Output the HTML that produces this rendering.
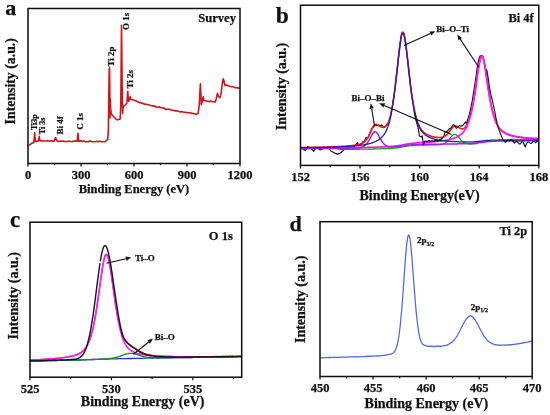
<!DOCTYPE html>
<html><head><meta charset="utf-8"><style>
html,body{margin:0;padding:0;background:#fff;}
svg{display:block;}
text{fill:#111;stroke:#111;stroke-width:0.25px;}
</style></head><body>
<svg width="550" height="415" viewBox="0 0 550 415">
<rect width="550" height="415" fill="#fff"/>
<path d="M28.5,145.5 L30.0,144.6 L32.0,143.2 L33.8,142.4 L34.3,138.0 L34.7,132.7 L35.1,139.0 L35.6,141.6 L37.0,141.2 L38.6,140.9 L39.1,137.0 L39.3,136.4 L39.6,139.0 L40.3,140.8 L41.9,140.9 L43.4,141.0 L45.0,141.0 L46.2,141.0 L47.5,140.8 L48.8,141.0 L50.0,141.2 L51.4,140.8 L52.9,141.1 L54.3,141.0 L55.0,138.5 L55.6,137.6 L56.3,139.5 L57.2,141.0 L58.8,141.6 L60.4,141.0 L62.0,141.3 L63.3,141.1 L64.7,141.5 L66.0,141.5 L67.3,141.5 L68.7,141.1 L70.0,141.5 L71.2,141.5 L72.4,141.7 L73.6,141.0 L74.8,141.3 L76.0,140.8 L77.2,141.4 L77.7,136.0 L78.0,133.3 L78.4,138.0 L78.9,141.3 L80.1,140.9 L81.3,140.8 L82.6,141.4 L83.8,141.1 L85.0,141.6 L86.2,141.7 L87.5,141.7 L88.8,141.6 L90.0,140.8 L91.2,141.5 L92.5,141.7 L93.8,141.7 L95.0,141.7 L96.4,141.2 L97.8,141.6 L99.2,141.4 L100.6,141.5 L102.0,141.8 L103.8,141.7 L105.5,141.6 L106.6,140.2 L107.8,139.6 L108.4,128.0 L108.8,95.0 L109.2,70.0 L109.5,67.8 L109.7,80.0 L110.0,118.0 L110.2,98.5 L110.6,108.0 L111.2,113.6 L112.5,115.5 L114.5,117.5 L116.6,119.8 L118.5,119.6 L120.2,119.0 L120.8,105.0 L121.2,60.0 L121.5,25.4 L121.9,60.0 L122.3,100.0 L122.6,113.5 L123.1,107.5 L124.0,106.0 L125.5,104.8 L126.8,103.2 L127.4,96.0 L127.8,91.4 L128.3,99.0 L128.8,101.3 L129.5,98.5 L130.1,96.8 L130.8,99.2 L132.5,99.8 L134.5,100.3 L136.2,101.0 L138.0,101.8 L139.3,102.7 L140.7,102.5 L142.0,103.3 L143.2,103.6 L144.5,104.2 L145.8,104.0 L147.0,104.5 L148.4,104.8 L149.8,105.2 L151.3,105.6 L152.7,105.9 L154.0,105.7 L155.3,106.5 L156.7,107.2 L158.0,107.0 L159.2,106.7 L160.5,107.8 L161.8,107.8 L163.0,108.0 L164.2,108.1 L165.5,109.4 L166.8,109.2 L168.0,109.3 L169.2,109.1 L170.5,109.8 L171.8,110.2 L173.0,110.2 L174.2,110.4 L175.5,110.9 L176.8,110.9 L178.0,111.2 L179.2,111.6 L180.5,112.1 L181.8,111.6 L183.0,112.0 L184.2,112.3 L185.5,112.2 L186.8,112.6 L188.0,112.8 L189.4,112.6 L190.9,113.0 L192.3,113.4 L193.7,113.5 L195.1,114.1 L196.5,114.0 L198.2,113.2 L199.2,105.0 L199.9,92.0 L200.4,83.7 L200.8,92.0 L201.3,104.4 L202.2,101.5 L203.2,96.8 L203.9,100.5 L205.0,100.8 L206.5,101.0 L208.0,101.3 L209.3,101.8 L210.7,101.0 L212.0,101.6 L213.6,101.8 L215.2,102.0 L216.3,98.5 L217.4,93.3 L218.3,96.0 L219.8,97.7 L221.0,94.0 L222.2,84.0 L223.2,78.8 L224.0,81.0 L225.0,85.5 L226.6,84.9 L227.8,85.5 L229.0,86.0 L230.5,86.4 L232.0,86.8 L233.3,86.8 L234.7,87.6 L236.0,87.6 L237.7,87.9 L239.4,88.3" fill="none" stroke="#d4121c" stroke-width="1.6" stroke-linejoin="round" stroke-linecap="round"/>
<rect x="28" y="8.5" width="212" height="155.0" fill="none" stroke="#0d0d0d" stroke-width="1.5"/>
<text x="28.00" y="178.6" text-anchor="middle" style="font-family:'Liberation Serif','Times New Roman',serif;font-weight:bold;font-size:12.5px">0</text>
<text x="81.00" y="178.6" text-anchor="middle" style="font-family:'Liberation Serif','Times New Roman',serif;font-weight:bold;font-size:12.5px">300</text>
<text x="134.00" y="178.6" text-anchor="middle" style="font-family:'Liberation Serif','Times New Roman',serif;font-weight:bold;font-size:12.5px">600</text>
<text x="187.00" y="178.6" text-anchor="middle" style="font-family:'Liberation Serif','Times New Roman',serif;font-weight:bold;font-size:12.5px">900</text>
<text x="240.00" y="178.6" text-anchor="middle" style="font-family:'Liberation Serif','Times New Roman',serif;font-weight:bold;font-size:12.5px">1200</text>
<path d="M28.00,163.5 v3 M54.50,163.5 v1.8 M81.00,163.5 v3 M107.50,163.5 v1.8 M134.00,163.5 v3 M160.50,163.5 v1.8 M187.00,163.5 v3 M213.50,163.5 v1.8 M240.00,163.5 v3" stroke="#1a1a1a" stroke-width="1.3" fill="none"/>
<text x="134" y="192.6" text-anchor="middle" style="font-family:'Liberation Serif','Times New Roman',serif;font-weight:bold;font-size:12.5px">Binding Energy (eV)</text>
<text transform="translate(14.6,81.25) rotate(-90)" text-anchor="middle" style="font-family:'Liberation Serif','Times New Roman',serif;font-weight:bold;font-size:13.8px">Intensity (a.u.)</text>
<text x="5.2" y="14.6" text-anchor="start" style="font-family:'Liberation Serif','Times New Roman',serif;font-weight:bold;font-size:22px">a</text>
<text x="236" y="21.8" text-anchor="end" style="font-family:'Liberation Serif','Times New Roman',serif;font-weight:bold;font-size:12.6px">Survey</text>
<text transform="translate(37.4,114.2) rotate(-90)" text-anchor="end" style="font-family:'Liberation Serif','Times New Roman',serif;font-weight:bold;font-size:8px">Ti3p</text>
<text transform="translate(44.8,117.6) rotate(-90)" text-anchor="end" style="font-family:'Liberation Serif','Times New Roman',serif;font-weight:bold;font-size:8px">Ti 3s</text>
<text transform="translate(62.6,116.3) rotate(-90)" text-anchor="end" style="font-family:'Liberation Serif','Times New Roman',serif;font-weight:bold;font-size:9px">Bi 4f</text>
<text transform="translate(83.2,113) rotate(-90)" text-anchor="end" style="font-family:'Liberation Serif','Times New Roman',serif;font-weight:bold;font-size:9px">C 1s</text>
<text transform="translate(114,46.5) rotate(-90)" text-anchor="end" style="font-family:'Liberation Serif','Times New Roman',serif;font-weight:bold;font-size:9px">Ti 2p</text>
<text transform="translate(129,12.8) rotate(-90)" text-anchor="end" style="font-family:'Liberation Serif','Times New Roman',serif;font-weight:bold;font-size:9px">O 1s</text>
<text transform="translate(132.5,70) rotate(-90)" text-anchor="end" style="font-family:'Liberation Serif','Times New Roman',serif;font-weight:bold;font-size:9px">Ti 2s</text>
<path d="M301.1,147.7 L301.5,148.2 L301.9,148.4 L302.3,148.9 L302.7,149.0 L303.1,149.0 L303.5,149.2 L303.9,149.5 L304.3,150.1 L304.7,150.0 L305.1,150.3 L305.5,150.6 L305.8,149.9 L306.2,149.0 L306.6,148.1 L307.0,147.4 L307.4,146.6 L307.8,146.7 L308.2,146.8 L308.6,146.9 L309.0,147.3 L309.4,147.4 L309.8,147.9 L310.2,148.0 L310.6,148.4 L311.0,148.4 L311.4,149.1 L311.8,149.1 L312.2,149.4 L312.6,150.1 L313.0,150.4 L313.4,151.0 L313.8,151.4 L314.2,150.3 L314.6,149.8 L315.0,149.4 L315.3,148.9 L315.7,148.3 L316.1,147.7 L316.5,147.6 L316.9,147.9 L317.3,147.9 L317.7,148.3 L318.1,148.6 L318.5,148.7 L318.9,149.2 L319.3,149.2 L319.7,149.8 L320.1,150.0 L320.5,149.9 L320.9,149.6 L321.3,149.5 L321.7,148.9 L322.1,148.9 L322.5,149.0 L322.9,148.4 L323.3,148.7 L323.7,148.1 L324.1,148.4 L324.5,148.0 L324.8,148.2 L325.2,147.9 L325.6,147.5 L326.0,147.8 L326.4,147.7 L326.8,147.2 L327.2,147.0 L327.6,146.8 L328.0,146.9 L328.4,147.9 L328.8,148.1 L329.2,148.8 L329.6,149.2 L330.0,149.8 L330.4,150.2 L330.8,151.0 L331.2,151.0 L331.6,151.5 L332.0,151.6 L332.4,151.7 L332.8,152.1 L333.2,152.3 L333.6,152.6 L334.0,152.8 L334.3,152.9 L334.7,152.9 L335.1,153.1 L335.5,153.7 L335.9,153.5 L336.3,153.5 L336.7,153.9 L337.1,154.3 L337.5,153.9 L337.9,154.0 L338.3,153.8 L338.7,153.4 L339.1,153.7 L339.5,153.4 L339.9,153.2 L340.3,152.9 L340.7,153.0 L341.1,152.5 L341.5,152.2 L341.9,151.6 L342.3,151.2 L342.7,151.3 L343.1,150.6 L343.5,150.3 L343.8,150.0 L344.2,149.7 L344.6,149.5 L345.0,149.5 L345.4,149.1 L345.8,148.9 L346.2,148.8 L346.6,148.8 L347.0,148.5 L347.4,148.6 L347.8,148.5 L348.2,148.4 L348.6,148.9 L349.0,149.0 L349.4,148.9 L349.8,149.1 L350.2,149.3 L350.6,149.4 L351.0,149.6 L351.4,149.3 L351.8,149.3 L352.2,148.4 L352.6,148.4 L353.0,147.9 L353.3,147.6 L353.7,147.4 L354.1,146.9 L354.5,146.1 L354.9,145.5 L355.3,145.5 L355.7,144.7 L356.1,144.4 L356.5,144.1 L356.9,143.2 L357.3,142.6 L357.7,142.6 L358.1,145.1 L358.5,145.2 L358.9,145.3 L359.3,145.1 L359.7,144.9 L360.1,144.9 L360.5,144.4 L360.9,143.8 L361.3,143.6 L361.7,143.0 L362.1,142.5 L362.5,141.9 L362.8,141.8 L363.2,141.7 L363.6,141.6 L364.0,141.6 L364.4,140.9 L364.8,140.2 L365.2,139.2 L365.6,138.5 L366.0,137.4 L366.4,137.7 L366.8,137.7 L367.2,138.0 L367.6,137.8 L368.0,137.6 L368.4,137.1 L368.8,135.9 L369.2,134.8 L369.6,133.6 L370.0,132.7 L370.4,131.5 L370.8,130.3 L371.2,129.9 L371.6,129.0 L372.0,128.2 L372.3,128.2 L372.7,128.1 L373.1,127.4 L373.5,126.6 L373.9,126.1 L374.3,125.9 L374.7,125.3 L375.1,125.1 L375.5,125.1 L375.9,125.3 L376.3,125.6 L376.7,125.6 L377.1,125.5 L377.5,125.2 L377.9,125.3 L378.3,125.0 L378.7,125.3 L379.1,125.1 L379.5,125.6 L379.9,125.9 L380.3,125.8 L380.7,126.1 L381.1,125.6 L381.5,124.8 L381.8,124.9 L382.2,125.3 L382.6,125.6 L383.0,126.9 L383.4,127.5 L383.8,127.8 L384.2,127.6 L384.6,127.4 L385.0,126.9 L385.4,126.5 L385.8,125.8 L386.2,125.1 L386.6,124.9 L387.0,124.1 L387.4,123.8 L387.8,123.0 L388.2,122.8 L388.6,121.9 L389.0,120.6 L389.4,119.3 L389.8,118.1 L390.2,117.0 L390.6,115.2 L391.0,113.5 L391.3,111.7 L391.7,109.8 L392.1,107.5 L392.5,105.4 L392.9,102.7 L393.3,100.3 L393.7,97.5 L394.1,94.9 L394.5,91.8 L394.9,88.6 L395.3,85.4 L395.7,82.1 L396.1,78.8 L396.5,74.9 L396.9,71.4 L397.3,67.9 L397.7,64.6 L398.1,60.7 L398.5,56.9 L398.9,53.5 L399.3,50.3 L399.7,46.6 L400.1,43.5 L400.5,41.0 L400.8,38.4 L401.2,36.3 L401.6,34.4 L402.0,33.5 L402.4,32.7 L402.8,32.2 L403.2,32.5 L403.6,32.8 L404.0,34.3 L404.4,35.8 L404.8,37.9 L405.2,40.4 L405.6,42.9 L406.0,45.7 L406.4,49.2 L406.8,52.3 L407.2,55.9 L407.6,59.3 L408.0,62.9 L408.4,66.2 L408.8,70.3 L409.2,73.6 L409.6,77.2 L410.0,80.7 L410.3,83.6 L410.7,86.5 L411.1,89.6 L411.5,92.5 L411.9,95.4 L412.3,98.1 L412.7,100.3 L413.1,103.1 L413.5,105.0 L413.9,107.5 L414.3,112.5" fill="none" stroke="#111111" stroke-width="1.1" stroke-linejoin="round" stroke-linecap="round"/>
<path d="M467.3,120.5 L467.7,119.3 L468.1,118.3 L468.5,117.4 L468.9,115.2 L469.3,114.4 L469.7,112.5 L470.1,111.3 L470.5,109.1 L470.9,107.4 L471.3,105.3 L471.7,103.3 L472.1,101.6 L472.5,99.2 L472.9,96.7 L473.3,94.1 L473.7,91.4 L474.1,89.1 L474.5,86.5 L474.9,83.8 L475.3,81.0 L475.7,78.1 L476.1,75.5 L476.5,72.8 L476.8,70.4 L477.2,68.0 L477.6,65.2 L478.0,62.9 L478.4,61.0 L478.8,59.2 L479.2,57.8 L479.6,56.9 L480.0,56.0 L480.4,55.9 L480.8,55.9 L481.2,56.3 L481.6,55.8 L482.0,55.7 L482.4,56.0 L482.8,56.8 L483.2,57.8 L483.6,59.4 L484.0,61.0 L484.4,62.7 L484.8,65.2 L485.2,67.3 L485.6,69.9 L486.0,72.6 L486.3,74.9 L486.7,69.5 L487.1,71.8" fill="none" stroke="#111111" stroke-width="1.1" stroke-linejoin="round" stroke-linecap="round"/>
<path d="M338.3,149.3 L338.7,149.3 L339.1,149.3 L339.5,149.3 L339.9,149.3 L340.3,149.3 L340.7,149.3 L341.1,149.3 L341.5,149.3 L341.9,149.3 L342.3,149.3 L342.7,149.3 L343.1,149.3 L343.5,149.3 L343.8,149.3 L344.2,149.3 L344.6,149.3 L345.0,149.3 L345.4,149.3 L345.8,149.3 L346.2,149.3 L346.6,149.3 L347.0,149.3 L347.4,149.3 L347.8,149.3 L348.2,149.3 L348.6,149.3 L349.0,149.3 L349.4,149.3 L349.8,149.3 L350.2,149.3 L350.6,149.3 L351.0,149.3 L351.4,149.3 L351.8,149.3 L352.2,149.3 L352.6,149.3 L353.0,149.3 L353.3,149.3 L353.7,149.3 L354.1,149.3 L354.5,149.3 L354.9,149.3 L355.3,149.3 L355.7,149.3 L356.1,149.3 L356.5,149.3 L356.9,149.3 L357.3,149.3 L357.7,149.3 L358.1,149.3 L358.5,149.3 L358.9,149.3 L359.3,149.3 L359.7,149.2 L360.1,149.2 L360.5,149.2 L360.9,149.2 L361.3,149.2 L361.7,149.2 L362.1,149.2 L362.5,149.2 L362.8,149.2 L363.2,149.2 L363.6,149.2 L364.0,149.2 L364.4,149.2 L364.8,149.2 L365.2,149.2 L365.6,149.2 L366.0,149.2 L366.4,149.2 L366.8,149.2 L367.2,149.2 L367.6,149.2 L368.0,149.2 L368.4,149.2 L368.8,149.1 L369.2,149.1 L369.6,149.1 L370.0,149.1 L370.4,149.1 L370.8,149.1 L371.2,149.1 L371.6,149.1 L372.0,149.1 L372.3,149.0 L372.7,149.0 L373.1,149.0 L373.5,149.0 L373.9,149.0 L374.3,149.0 L374.7,149.0 L375.1,148.9 L375.5,148.9 L375.9,148.9 L376.3,148.9 L376.7,148.9 L377.1,148.9 L377.5,148.9 L377.9,148.8 L378.3,148.8 L378.7,148.8 L379.1,148.8 L379.5,148.8 L379.9,148.8 L380.3,148.8 L380.7,148.7 L381.1,148.7 L381.5,148.7 L381.8,148.7 L382.2,148.7 L382.6,148.7 L383.0,148.7 L383.4,148.7 L383.8,148.7 L384.2,148.6 L384.6,148.6 L385.0,148.6 L385.4,148.6 L385.8,148.6 L386.2,148.6 L386.6,148.6 L387.0,148.6 L387.4,148.5 L387.8,148.5 L388.2,148.5 L388.6,148.5 L389.0,148.5 L389.4,148.5 L389.8,148.4 L390.2,148.4 L390.6,148.4 L391.0,148.4 L391.3,148.4 L391.7,148.3 L392.1,148.3 L392.5,148.3 L392.9,148.2 L393.3,148.2 L393.7,148.2 L394.1,148.1 L394.5,148.1 L394.9,148.1 L395.3,148.0 L395.7,148.0 L396.1,147.9 L396.5,147.9 L396.9,147.8 L397.3,147.8 L397.7,147.7 L398.1,147.7 L398.5,147.6 L398.9,147.6 L399.3,147.5 L399.7,147.4 L400.1,147.4 L400.5,147.3 L400.8,147.2 L401.2,147.1 L401.6,147.1 L402.0,147.0 L402.4,146.9 L402.8,146.8 L403.2,146.8 L403.6,146.7 L404.0,146.6 L404.4,146.6 L404.8,146.5 L405.2,146.4 L405.6,146.3 L406.0,146.3 L406.4,146.2 L406.8,146.2 L407.2,146.1 L407.6,146.0 L408.0,146.0 L408.4,145.9 L408.8,145.9 L409.2,145.8 L409.6,145.8 L410.0,145.7 L410.3,145.7 L410.7,145.7 L411.1,145.6 L411.5,145.6 L411.9,145.6 L412.3,145.5 L412.7,145.5 L413.1,145.5 L413.5,145.4 L413.9,145.4 L414.3,145.4 L414.7,145.4 L415.1,145.4 L415.5,145.3 L415.9,145.3 L416.3,145.3 L416.7,145.3 L417.1,145.3 L417.5,145.2 L417.9,145.2 L418.3,145.2 L418.7,145.2 L419.1,145.2 L419.5,145.2 L419.8,145.2 L420.2,145.2 L420.6,145.1 L421.0,145.1 L421.4,145.1 L421.8,145.1 L422.2,145.1 L422.6,145.1 L423.0,145.1 L423.4,145.1 L423.8,145.1 L424.2,145.1 L424.6,145.0 L425.0,145.0 L425.4,145.0 L425.8,145.0 L426.2,145.0 L426.6,145.0 L427.0,145.0 L427.4,145.0 L427.8,145.0 L428.2,145.0 L428.6,145.0 L429.0,145.0 L429.3,145.0 L429.7,144.9 L430.1,144.9 L430.5,144.9 L430.9,144.9 L431.3,144.9 L431.7,144.9 L432.1,144.9 L432.5,144.9 L432.9,144.9 L433.3,144.9 L433.7,144.9 L434.1,144.9 L434.5,144.8 L434.9,144.8 L435.3,144.8 L435.7,144.8 L436.1,144.8 L436.5,144.8 L436.9,144.8 L437.3,144.8 L437.7,144.8 L438.1,144.7 L438.5,144.7 L438.8,144.7 L439.2,144.7 L439.6,144.6 L440.0,144.6 L440.4,144.6 L440.8,144.5 L441.2,144.4 L441.6,144.4 L442.0,144.3 L442.4,144.2 L442.8,144.1 L443.2,144.0 L443.6,143.8 L444.0,143.7 L444.4,143.5 L444.8,143.3 L445.2,143.1 L445.6,142.8 L446.0,142.5 L446.4,142.2 L446.8,141.9 L447.2,141.5 L447.6,141.1 L448.0,140.7 L448.3,140.2 L448.7,139.8 L449.1,139.3 L449.5,138.8 L449.9,138.3 L450.3,137.8 L450.7,137.3 L451.1,136.8 L451.5,136.4 L451.9,135.9 L452.3,135.5 L452.7,135.2 L453.1,134.9 L453.5,134.7 L453.9,134.5 L454.3,134.4 L454.7,134.3 L455.1,134.4 L455.5,134.5 L455.9,134.7 L456.3,134.9 L456.7,135.2 L457.1,135.6 L457.5,135.9 L457.8,136.4 L458.2,136.8 L458.6,137.3 L459.0,137.8 L459.4,138.2 L459.8,138.7 L460.2,139.2 L460.6,139.6 L461.0,140.1 L461.4,140.5 L461.8,140.9 L462.2,141.3 L462.6,141.6 L463.0,141.9 L463.4,142.2 L463.8,142.5 L464.2,142.7 L464.6,142.9 L465.0,143.1 L465.4,143.3 L465.8,143.4 L466.2,143.5 L466.6,143.6 L467.0,143.7 L467.3,143.8 L467.7,143.8 L468.1,143.9 L468.5,143.9 L468.9,143.9 L469.3,143.9 L469.7,144.0 L470.1,144.0 L470.5,144.0 L470.9,144.0 L471.3,144.0 L471.7,143.9 L472.1,143.9 L472.5,143.9 L472.9,143.9 L473.3,143.9 L473.7,143.9 L474.1,143.8 L474.5,143.8 L474.9,143.8 L475.3,143.7 L475.7,143.7 L476.1,143.7 L476.5,143.6 L476.8,143.6 L477.2,143.6 L477.6,143.5" fill="none" stroke="#1c9a1c" stroke-width="1.3" stroke-linejoin="round" stroke-linecap="round"/>
<path d="M301.1,147.6 L301.5,147.5 L301.9,147.5 L302.3,147.5 L302.7,147.5 L303.1,147.5 L303.5,147.5 L303.9,147.5 L304.3,147.5 L304.7,147.5 L305.1,147.5 L305.5,147.5 L305.8,147.5 L306.2,147.5 L306.6,147.5 L307.0,147.5 L307.4,147.5 L307.8,147.5 L308.2,147.4 L308.6,147.4 L309.0,147.4 L309.4,147.4 L309.8,147.4 L310.2,147.4 L310.6,147.4 L311.0,147.4 L311.4,147.4 L311.8,147.4 L312.2,147.4 L312.6,147.4 L313.0,147.4 L313.4,147.4 L313.8,147.4 L314.2,147.3 L314.6,147.3 L315.0,147.3 L315.3,147.3 L315.7,147.3 L316.1,147.3 L316.5,147.3 L316.9,147.3 L317.3,147.3 L317.7,147.3 L318.1,147.3 L318.5,147.3 L318.9,147.2 L319.3,147.2 L319.7,147.2 L320.1,147.2 L320.5,147.2 L320.9,147.2 L321.3,147.2 L321.7,147.2 L322.1,147.2 L322.5,147.2 L322.9,147.2 L323.3,147.1 L323.7,147.1 L324.1,147.1 L324.5,147.1 L324.8,147.1 L325.2,147.1 L325.6,147.1 L326.0,147.1 L326.4,147.1 L326.8,147.0 L327.2,147.0 L327.6,147.0 L328.0,147.0 L328.4,147.0 L328.8,147.0 L329.2,147.0 L329.6,147.0 L330.0,146.9 L330.4,146.9 L330.8,146.9 L331.2,146.9 L331.6,146.9 L332.0,146.9 L332.4,146.9 L332.8,146.8 L333.2,146.8 L333.6,146.8 L334.0,146.8 L334.3,146.8 L334.7,146.8 L335.1,146.7 L335.5,146.7 L335.9,146.7 L336.3,146.7 L336.7,146.7 L337.1,146.7 L337.5,146.6 L337.9,146.6 L338.3,146.6 L338.7,146.6 L339.1,146.6 L339.5,146.5 L339.9,146.5 L340.3,146.5 L340.7,146.5 L341.1,146.5 L341.5,146.4 L341.9,146.4 L342.3,146.4 L342.7,146.4 L343.1,146.3 L343.5,146.3 L343.8,146.3 L344.2,146.3 L344.6,146.2 L345.0,146.2 L345.4,146.2 L345.8,146.2 L346.2,146.1 L346.6,146.1 L347.0,146.1 L347.4,146.0 L347.8,146.0 L348.2,146.0 L348.6,145.9 L349.0,145.9 L349.4,145.9 L349.8,145.8 L350.2,145.8 L350.6,145.8 L351.0,145.7 L351.4,145.7 L351.8,145.6 L352.2,145.6 L352.6,145.6 L353.0,145.5 L353.3,145.5 L353.7,145.4 L354.1,145.4 L354.5,145.3 L354.9,145.3 L355.3,145.2 L355.7,145.1 L356.1,145.1 L356.5,145.0 L356.9,145.0 L357.3,144.9 L357.7,144.8 L358.1,144.7 L358.5,144.6 L358.9,144.6 L359.3,144.5 L359.7,144.4 L360.1,144.2 L360.5,144.1 L360.9,144.0 L361.3,143.8 L361.7,143.7 L362.1,143.5 L362.5,143.3 L362.8,143.0 L363.2,142.8 L363.6,142.5 L364.0,142.2 L364.4,141.9 L364.8,141.5 L365.2,141.1 L365.6,140.6 L366.0,140.1 L366.4,139.6 L366.8,139.0 L367.2,138.4 L367.6,137.8 L368.0,137.1 L368.4,136.4 L368.8,135.6 L369.2,134.8 L369.6,134.0 L370.0,133.1 L370.4,132.3 L370.8,131.4 L371.2,130.6 L371.6,129.7 L372.0,128.9 L372.3,128.2 L372.7,127.4 L373.1,126.7 L373.5,126.1 L373.9,125.6 L374.3,125.2 L374.7,124.9 L375.1,124.6 L375.5,124.5 L375.9,124.4 L376.3,124.4 L376.7,124.5 L377.1,124.7 L377.5,124.9 L377.9,125.1 L378.3,125.3 L378.7,125.6 L379.1,125.9 L379.5,126.1 L379.9,126.3 L380.3,126.5 L380.7,126.7 L381.1,126.9 L381.5,127.0 L381.8,127.1 L382.2,127.1 L382.6,127.2 L383.0,127.2 L383.4,127.2 L383.8,127.1 L384.2,127.0 L384.6,126.9 L385.0,126.7 L385.4,126.5 L385.8,126.2 L386.2,125.8 L386.6,125.4 L387.0,124.9 L387.4,124.3 L387.8,123.6 L388.2,122.8 L388.6,121.8 L389.0,120.8 L389.4,119.6 L389.8,118.3 L390.2,116.9 L390.6,115.3 L391.0,113.6 L391.3,111.7 L391.7,109.7 L392.1,107.6 L392.5,105.3 L392.9,102.9 L393.3,100.3 L393.7,97.6 L394.1,94.8 L394.5,91.8 L394.9,88.7 L395.3,85.5 L395.7,82.1 L396.1,78.7 L396.5,75.2 L396.9,71.6 L397.3,67.9 L397.7,64.3 L398.1,60.6 L398.5,56.9 L398.9,53.4 L399.3,49.9 L399.7,46.7 L400.1,43.6 L400.5,40.8 L400.8,38.3 L401.2,36.2 L401.6,34.5 L402.0,33.2 L402.4,32.4 L402.8,32.2 L403.2,32.4 L403.6,33.1 L404.0,34.2 L404.4,35.9 L404.8,37.9 L405.2,40.3 L405.6,43.0 L406.0,45.9 L406.4,49.1 L406.8,52.4 L407.2,55.9 L407.6,59.4 L408.0,63.0 L408.4,66.6 L408.8,70.1 L409.2,73.6 L409.6,77.0 L410.0,80.4 L410.3,83.6 L410.7,86.8 L411.1,89.8 L411.5,92.7 L411.9,95.5 L412.3,98.1 L412.7,100.6 L413.1,103.0 L413.5,105.3 L413.9,107.4 L414.3,109.4 L414.7,111.3 L415.1,113.1 L415.5,114.8 L415.9,116.3 L416.3,117.8 L416.7,119.1 L417.1,120.4 L417.5,121.6 L417.9,122.7 L418.3,123.7 L418.7,124.7 L419.1,125.5 L419.5,126.4 L419.8,127.1 L420.2,127.8 L420.6,128.5 L421.0,129.1 L421.4,129.6 L421.8,130.2 L422.2,130.6 L422.6,131.1 L423.0,131.5 L423.4,131.9 L423.8,132.3 L424.2,132.6 L424.6,132.9 L425.0,133.3 L425.4,133.5 L425.8,133.8 L426.2,134.1 L426.6,134.3 L427.0,134.5 L427.4,134.7 L427.8,134.9 L428.2,135.1 L428.6,135.3 L429.0,135.4 L429.3,135.6 L429.7,135.8 L430.1,135.9 L430.5,136.0 L430.9,136.2 L431.3,136.3 L431.7,136.4 L432.1,136.5 L432.5,136.6 L432.9,136.7 L433.3,136.8 L433.7,136.9 L434.1,137.0 L434.5,137.0 L434.9,137.1 L435.3,137.2 L435.7,137.2 L436.1,137.3 L436.5,137.3 L436.9,137.4 L437.3,137.4 L437.7,137.5 L438.1,137.5 L438.5,137.5 L438.8,137.5 L439.2,137.5 L439.6,137.5 L440.0,137.5 L440.4,137.5 L440.8,137.5 L441.2,137.4 L441.6,137.4 L442.0,137.3 L442.4,137.3 L442.8,137.2 L443.2,137.0 L443.6,136.9 L444.0,136.7 L444.4,136.5 L444.8,136.3 L445.2,136.1 L445.6,135.8 L446.0,135.5 L446.4,135.2 L446.8,134.8 L447.2,134.4 L447.6,134.0 L448.0,133.5 L448.3,133.1 L448.7,132.5 L449.1,132.0 L449.5,131.5 L449.9,130.9 L450.3,130.4 L450.7,129.8 L451.1,129.3 L451.5,128.7 L451.9,128.2 L452.3,127.8 L452.7,127.3 L453.1,126.9 L453.5,126.6 L453.9,126.3 L454.3,126.1 L454.7,126.0 L455.1,125.9 L455.5,125.9 L455.9,125.9 L456.3,126.0 L456.7,126.2 L457.1,126.3 L457.5,126.6 L457.8,126.8 L458.2,127.1 L458.6,127.3 L459.0,127.6 L459.4,127.9 L459.8,128.1 L460.2,128.3 L460.6,128.5 L461.0,128.7 L461.4,128.8 L461.8,128.8 L462.2,128.9 L462.6,128.8 L463.0,128.8 L463.4,128.6 L463.8,128.4 L464.2,128.2 L464.6,127.8 L465.0,127.5 L465.4,127.0 L465.8,126.5 L466.2,125.9 L466.6,125.3 L467.0,124.6 L467.3,123.8 L467.7,122.9 L468.1,122.0 L468.5,121.0 L468.9,119.9 L469.3,118.7 L469.7,117.5 L470.1,116.1 L470.5,114.7 L470.9,113.2 L471.3,111.6 L471.7,109.8 L472.1,108.0 L472.5,106.1 L472.9,104.1 L473.3,102.0 L473.7,99.7 L474.1,97.4 L474.5,95.0 L474.9,92.5 L475.3,89.9 L475.7,87.3 L476.1,84.6 L476.5,81.8 L476.8,79.1 L477.2,76.3 L477.6,73.6 L478.0,70.9 L478.4,68.3 L478.8,65.9 L479.2,63.6 L479.6,61.6 L480.0,59.8 L480.4,58.3 L480.8,57.1 L481.2,56.3 L481.6,55.8 L482.0,55.8 L482.4,56.1 L482.8,56.8 L483.2,57.9 L483.6,59.3 L484.0,61.0 L484.4,63.0 L484.8,65.2 L485.2,67.5 L485.6,70.0 L486.0,72.6 L486.3,75.3 L486.7,78.0 L487.1,80.7 L487.5,83.4 L487.9,86.0 L488.3,88.6 L488.7,91.1 L489.1,93.6 L489.5,96.0 L489.9,98.3 L490.3,100.5 L490.7,102.6 L491.1,104.6 L491.5,106.5 L491.9,108.3 L492.3,110.0 L492.7,111.6 L493.1,113.1 L493.5,114.6 L493.9,115.9 L494.3,117.2 L494.7,118.4 L495.1,119.5 L495.5,120.6 L495.8,121.6 L496.2,122.5 L496.6,123.3 L497.0,124.1 L497.4,124.9 L497.8,125.6 L498.2,126.3 L498.6,126.9 L499.0,127.4 L499.4,128.0 L499.8,128.5 L500.2,129.0 L500.6,129.4 L501.0,129.8 L501.4,130.2 L501.8,130.6 L502.2,130.9 L502.6,131.2 L503.0,131.5 L503.4,131.8 L503.8,132.1 L504.2,132.4 L504.6,132.6 L505.0,132.8 L505.3,133.1 L505.7,133.3 L506.1,133.5 L506.5,133.7 L506.9,133.8 L507.3,134.0 L507.7,134.2 L508.1,134.3 L508.5,134.5 L508.9,134.6 L509.3,134.8 L509.7,134.9 L510.1,135.1 L510.5,135.2 L510.9,135.3 L511.3,135.4 L511.7,135.5 L512.1,135.6 L512.5,135.7 L512.9,135.8 L513.3,135.9 L513.7,136.0 L514.1,136.1 L514.5,136.2 L514.8,136.3 L515.2,136.4 L515.6,136.5 L516.0,136.5 L516.4,136.6 L516.8,136.7 L517.2,136.8 L517.6,136.8 L518.0,136.9 L518.4,137.0 L518.8,137.0 L519.2,137.1 L519.6,137.1 L520.0,137.2 L520.4,137.2 L520.8,137.3 L521.2,137.3 L521.6,137.4 L522.0,137.4 L522.4,137.5 L522.8,137.5 L523.2,137.6 L523.6,137.6 L524.0,137.7 L524.3,137.7 L524.7,137.8 L525.1,137.8 L525.5,137.8 L525.9,137.9 L526.3,137.9 L526.7,137.9 L527.1,138.0 L527.5,138.0 L527.9,138.1 L528.3,138.1 L528.7,138.1 L529.1,138.1 L529.5,138.2 L529.9,138.2 L530.3,138.2 L530.7,138.3 L531.1,138.3 L531.5,138.3 L531.9,138.3 L532.3,138.4 L532.7,138.4 L533.1,138.4 L533.5,138.4 L533.8,138.5 L534.2,138.5 L534.6,138.5 L535.0,138.5 L535.4,138.6 L535.8,138.6 L536.2,138.6 L536.6,138.6 L537.0,138.6 L537.4,138.7 L537.8,138.7 L538.2,138.7" fill="none" stroke="#ff1414" stroke-width="1.6" stroke-linejoin="round" stroke-linecap="round"/>
<path d="M301.1,147.9 L301.5,147.9 L301.9,147.9 L302.3,147.9 L302.7,147.9 L303.1,147.9 L303.5,147.9 L303.9,147.9 L304.3,147.9 L304.7,147.9 L305.1,147.9 L305.5,147.9 L305.8,147.9 L306.2,147.9 L306.6,147.9 L307.0,147.9 L307.4,147.9 L307.8,147.9 L308.2,147.9 L308.6,147.8 L309.0,147.8 L309.4,147.8 L309.8,147.8 L310.2,147.8 L310.6,147.8 L311.0,147.8 L311.4,147.8 L311.8,147.8 L312.2,147.8 L312.6,147.8 L313.0,147.8 L313.4,147.8 L313.8,147.8 L314.2,147.8 L314.6,147.8 L315.0,147.8 L315.3,147.8 L315.7,147.8 L316.1,147.8 L316.5,147.8 L316.9,147.8 L317.3,147.8 L317.7,147.8 L318.1,147.8 L318.5,147.8 L318.9,147.8 L319.3,147.8 L319.7,147.8 L320.1,147.8 L320.5,147.8 L320.9,147.8 L321.3,147.8 L321.7,147.8 L322.1,147.8 L322.5,147.8 L322.9,147.8 L323.3,147.8 L323.7,147.8 L324.1,147.8 L324.5,147.8 L324.8,147.8 L325.2,147.8 L325.6,147.8 L326.0,147.8 L326.4,147.8 L326.8,147.8 L327.2,147.8 L327.6,147.8 L328.0,147.8 L328.4,147.8 L328.8,147.8 L329.2,147.8 L329.6,147.8 L330.0,147.8 L330.4,147.8 L330.8,147.8 L331.2,147.8 L331.6,147.8 L332.0,147.8 L332.4,147.8 L332.8,147.8 L333.2,147.8 L333.6,147.8 L334.0,147.8 L334.3,147.8 L334.7,147.8 L335.1,147.7 L335.5,147.7 L335.9,147.7 L336.3,147.7 L336.7,147.7 L337.1,147.7 L337.5,147.7 L337.9,147.7 L338.3,147.7 L338.7,147.7 L339.1,147.7 L339.5,147.7 L339.9,147.7 L340.3,147.7 L340.7,147.7 L341.1,147.7 L341.5,147.7 L341.9,147.7 L342.3,147.7 L342.7,147.7 L343.1,147.7 L343.5,147.7 L343.8,147.7 L344.2,147.7 L344.6,147.7 L345.0,147.7 L345.4,147.7 L345.8,147.7 L346.2,147.7 L346.6,147.7 L347.0,147.7 L347.4,147.7 L347.8,147.7 L348.2,147.7 L348.6,147.7 L349.0,147.7 L349.4,147.7 L349.8,147.7 L350.2,147.7 L350.6,147.7 L351.0,147.6 L351.4,147.6 L351.8,147.6 L352.2,147.6 L352.6,147.6 L353.0,147.6 L353.3,147.6 L353.7,147.6 L354.1,147.6 L354.5,147.6 L354.9,147.6 L355.3,147.6 L355.7,147.6 L356.1,147.6 L356.5,147.6 L356.9,147.6 L357.3,147.6 L357.7,147.6 L358.1,147.6 L358.5,147.6 L358.9,147.6 L359.3,147.6 L359.7,147.6 L360.1,147.6 L360.5,147.6 L360.9,147.6 L361.3,147.6 L361.7,147.5 L362.1,147.5 L362.5,147.5 L362.8,147.5 L363.2,147.5 L363.6,147.5 L364.0,147.5 L364.4,147.5 L364.8,147.5 L365.2,147.5 L365.6,147.5 L366.0,147.5 L366.4,147.5 L366.8,147.5 L367.2,147.5 L367.6,147.4 L368.0,147.4 L368.4,147.4 L368.8,147.4 L369.2,147.4 L369.6,147.4 L370.0,147.4 L370.4,147.4 L370.8,147.4 L371.2,147.3 L371.6,147.3 L372.0,147.3 L372.3,147.3 L372.7,147.3 L373.1,147.3 L373.5,147.2 L373.9,147.2 L374.3,147.2 L374.7,147.2 L375.1,147.2 L375.5,147.2 L375.9,147.1 L376.3,147.1 L376.7,147.1 L377.1,147.1 L377.5,147.1 L377.9,147.1 L378.3,147.0 L378.7,147.0 L379.1,147.0 L379.5,147.0 L379.9,147.0 L380.3,147.0 L380.7,146.9 L381.1,146.9 L381.5,146.9 L381.8,146.9 L382.2,146.9 L382.6,146.9 L383.0,146.9 L383.4,146.8 L383.8,146.8 L384.2,146.8 L384.6,146.8 L385.0,146.8 L385.4,146.8 L385.8,146.7 L386.2,146.7 L386.6,146.7 L387.0,146.7 L387.4,146.7 L387.8,146.7 L388.2,146.6 L388.6,146.6 L389.0,146.6 L389.4,146.6 L389.8,146.6 L390.2,146.5 L390.6,146.5 L391.0,146.5 L391.3,146.4 L391.7,146.4 L392.1,146.4 L392.5,146.4 L392.9,146.3 L393.3,146.3 L393.7,146.2 L394.1,146.2 L394.5,146.2 L394.9,146.1 L395.3,146.1 L395.7,146.0 L396.1,146.0 L396.5,145.9 L396.9,145.9 L397.3,145.8 L397.7,145.8 L398.1,145.7 L398.5,145.6 L398.9,145.6 L399.3,145.5 L399.7,145.4 L400.1,145.3 L400.5,145.3 L400.8,145.2 L401.2,145.1 L401.6,145.0 L402.0,145.0 L402.4,144.9 L402.8,144.8 L403.2,144.7 L403.6,144.6 L404.0,144.5 L404.4,144.5 L404.8,144.4 L405.2,144.3 L405.6,144.2 L406.0,144.2 L406.4,144.1 L406.8,144.0 L407.2,144.0 L407.6,143.9 L408.0,143.8 L408.4,143.8 L408.8,143.7 L409.2,143.7 L409.6,143.6 L410.0,143.6 L410.3,143.5 L410.7,143.5 L411.1,143.4 L411.5,143.4 L411.9,143.3 L412.3,143.3 L412.7,143.3 L413.1,143.2 L413.5,143.2 L413.9,143.1 L414.3,143.1 L414.7,143.1 L415.1,143.0 L415.5,143.0 L415.9,143.0 L416.3,143.0 L416.7,142.9 L417.1,142.9 L417.5,142.9 L417.9,142.8 L418.3,142.8 L418.7,142.8 L419.1,142.8 L419.5,142.7 L419.8,142.7 L420.2,142.7 L420.6,142.7 L421.0,142.6 L421.4,142.6 L421.8,142.6 L422.2,142.6 L422.6,142.6 L423.0,142.5 L423.4,142.5 L423.8,142.5 L424.2,142.5 L424.6,142.4 L425.0,142.4 L425.4,142.4 L425.8,142.4 L426.2,142.3 L426.6,142.3 L427.0,142.3 L427.4,142.3 L427.8,142.2 L428.2,142.2 L428.6,142.2 L429.0,142.1 L429.3,142.1 L429.7,142.1 L430.1,142.1 L430.5,142.0 L430.9,142.0 L431.3,142.0 L431.7,141.9 L432.1,141.9 L432.5,141.9 L432.9,141.9 L433.3,141.8 L433.7,141.8 L434.1,141.8 L434.5,141.7 L434.9,141.7 L435.3,141.6 L435.7,141.6 L436.1,141.6 L436.5,141.5 L436.9,141.5 L437.3,141.5 L437.7,141.4 L438.1,141.4 L438.5,141.3 L438.8,141.3 L439.2,141.2 L439.6,141.2 L440.0,141.2 L440.4,141.1 L440.8,141.1 L441.2,141.0 L441.6,141.0 L442.0,140.9 L442.4,140.9 L442.8,140.8 L443.2,140.7 L443.6,140.7 L444.0,140.6 L444.4,140.6 L444.8,140.5 L445.2,140.4 L445.6,140.4 L446.0,140.3 L446.4,140.2 L446.8,140.1 L447.2,140.1 L447.6,140.0 L448.0,139.9 L448.3,139.8 L448.7,139.7 L449.1,139.6 L449.5,139.5 L449.9,139.4 L450.3,139.3 L450.7,139.2 L451.1,139.1 L451.5,139.0 L451.9,138.9 L452.3,138.8 L452.7,138.6 L453.1,138.5 L453.5,138.4 L453.9,138.2 L454.3,138.1 L454.7,137.9 L455.1,137.8 L455.5,137.6 L455.9,137.4 L456.3,137.2 L456.7,137.1 L457.1,136.9 L457.5,136.7 L457.8,136.4 L458.2,136.2 L458.6,136.0 L459.0,135.8 L459.4,135.5 L459.8,135.2 L460.2,134.9 L460.6,134.6 L461.0,134.3 L461.4,134.0 L461.8,133.6 L462.2,133.3 L462.6,132.9 L463.0,132.4 L463.4,132.0 L463.8,131.5 L464.2,131.0 L464.6,130.4 L465.0,129.9 L465.4,129.2 L465.8,128.6 L466.2,127.8 L466.6,127.1 L467.0,126.2 L467.3,125.4 L467.7,124.4 L468.1,123.4 L468.5,122.4 L468.9,121.2 L469.3,120.0 L469.7,118.7 L470.1,117.3 L470.5,115.8 L470.9,114.3 L471.3,112.6 L471.7,110.9 L472.1,109.0 L472.5,107.1 L472.9,105.1 L473.3,102.9 L473.7,100.7 L474.1,98.3 L474.5,95.9 L474.9,93.4 L475.3,90.8 L475.7,88.1 L476.1,85.4 L476.5,82.7 L476.8,79.9 L477.2,77.1 L477.6,74.4 L478.0,71.7 L478.4,69.1 L478.8,66.6 L479.2,64.4 L479.6,62.3 L480.0,60.5 L480.4,59.0 L480.8,57.8 L481.2,57.0 L481.6,56.5 L482.0,56.5 L482.4,56.8 L482.8,57.5 L483.2,58.6 L483.6,60.0 L484.0,61.6 L484.4,63.6 L484.8,65.8 L485.2,68.1 L485.6,70.6 L486.0,73.2 L486.3,75.8 L486.7,78.5 L487.1,81.2 L487.5,83.9 L487.9,86.6 L488.3,89.2 L488.7,91.7 L489.1,94.1 L489.5,96.5 L489.9,98.8 L490.3,101.0 L490.7,103.1 L491.1,105.0 L491.5,106.9 L491.9,108.7 L492.3,110.5 L492.7,112.1 L493.1,113.6 L493.5,115.0 L493.9,116.4 L494.3,117.6 L494.7,118.8 L495.1,120.0 L495.5,121.0 L495.8,122.0 L496.2,122.9 L496.6,123.8 L497.0,124.6 L497.4,125.3 L497.8,126.0 L498.2,126.6 L498.6,127.3 L499.0,127.8 L499.4,128.4 L499.8,128.9 L500.2,129.3 L500.6,129.8 L501.0,130.2 L501.4,130.5 L501.8,130.9 L502.2,131.2 L502.6,131.6 L503.0,131.9 L503.4,132.2 L503.8,132.4 L504.2,132.7 L504.6,132.9 L505.0,133.1 L505.3,133.4 L505.7,133.6 L506.1,133.8 L506.5,134.0 L506.9,134.1 L507.3,134.3 L507.7,134.5 L508.1,134.6 L508.5,134.8 L508.9,134.9 L509.3,135.1 L509.7,135.2 L510.1,135.3 L510.5,135.4 L510.9,135.6 L511.3,135.7 L511.7,135.8 L512.1,135.9 L512.5,136.0 L512.9,136.1 L513.3,136.2 L513.7,136.3 L514.1,136.4 L514.5,136.4 L514.8,136.5 L515.2,136.6 L515.6,136.7 L516.0,136.7 L516.4,136.8 L516.8,136.9 L517.2,137.0 L517.6,137.0 L518.0,137.1 L518.4,137.1 L518.8,137.2 L519.2,137.3 L519.6,137.3 L520.0,137.4 L520.4,137.4 L520.8,137.5 L521.2,137.5 L521.6,137.6 L522.0,137.6 L522.4,137.7 L522.8,137.7 L523.2,137.8 L523.6,137.8 L524.0,137.8 L524.3,137.9 L524.7,137.9 L525.1,138.0 L525.5,138.0 L525.9,138.0 L526.3,138.1 L526.7,138.1 L527.1,138.1 L527.5,138.2 L527.9,138.2 L528.3,138.2 L528.7,138.3 L529.1,138.3 L529.5,138.3 L529.9,138.3 L530.3,138.4 L530.7,138.4 L531.1,138.4 L531.5,138.4 L531.9,138.5 L532.3,138.5 L532.7,138.5 L533.1,138.5 L533.5,138.6 L533.8,138.6 L534.2,138.6 L534.6,138.6 L535.0,138.6 L535.4,138.7 L535.8,138.7 L536.2,138.7 L536.6,138.7 L537.0,138.7 L537.4,138.8 L537.8,138.8 L538.2,138.8" fill="none" stroke="#ff14ff" stroke-width="1.7" stroke-linejoin="round" stroke-linecap="round"/>
<path d="M301.1,148.7 L301.5,148.7 L301.9,148.7 L302.3,148.7 L302.7,148.7 L303.1,148.7 L303.5,148.7 L303.9,148.7 L304.3,148.7 L304.7,148.7 L305.1,148.7 L305.5,148.7 L305.8,148.7 L306.2,148.7 L306.6,148.7 L307.0,148.7 L307.4,148.7 L307.8,148.7 L308.2,148.7 L308.6,148.7 L309.0,148.6 L309.4,148.6 L309.8,148.6 L310.2,148.6 L310.6,148.6 L311.0,148.6 L311.4,148.6 L311.8,148.6 L312.2,148.6 L312.6,148.6 L313.0,148.6 L313.4,148.6 L313.8,148.6 L314.2,148.6 L314.6,148.6 L315.0,148.6 L315.3,148.6 L315.7,148.6 L316.1,148.6 L316.5,148.6 L316.9,148.6 L317.3,148.6 L317.7,148.6 L318.1,148.6 L318.5,148.6 L318.9,148.6 L319.3,148.6 L319.7,148.6 L320.1,148.6 L320.5,148.6 L320.9,148.6 L321.3,148.6 L321.7,148.6 L322.1,148.6 L322.5,148.6 L322.9,148.6 L323.3,148.6 L323.7,148.6 L324.1,148.6 L324.5,148.6 L324.8,148.6 L325.2,148.6 L325.6,148.6 L326.0,148.6 L326.4,148.6 L326.8,148.6 L327.2,148.6 L327.6,148.6 L328.0,148.6 L328.4,148.6 L328.8,148.6 L329.2,148.6 L329.6,148.6 L330.0,148.6 L330.4,148.6 L330.8,148.6 L331.2,148.6 L331.6,148.6 L332.0,148.6 L332.4,148.6 L332.8,148.6 L333.2,148.6 L333.6,148.5 L334.0,148.5 L334.3,148.5 L334.7,148.5 L335.1,148.5 L335.5,148.5 L335.9,148.5 L336.3,148.5 L336.7,148.5 L337.1,148.5 L337.5,148.5 L337.9,148.5 L338.3,148.5 L338.7,148.5 L339.1,148.5 L339.5,148.5 L339.9,148.5 L340.3,148.5 L340.7,148.5 L341.1,148.5 L341.5,148.5 L341.9,148.5 L342.3,148.5 L342.7,148.5 L343.1,148.5 L343.5,148.5 L343.8,148.4 L344.2,148.4 L344.6,148.4 L345.0,148.4 L345.4,148.4 L345.8,148.4 L346.2,148.4 L346.6,148.4 L347.0,148.4 L347.4,148.4 L347.8,148.4 L348.2,148.4 L348.6,148.4 L349.0,148.4 L349.4,148.3 L349.8,148.3 L350.2,148.3 L350.6,148.3 L351.0,148.3 L351.4,148.3 L351.8,148.3 L352.2,148.3 L352.6,148.3 L353.0,148.2 L353.3,148.2 L353.7,148.2 L354.1,148.2 L354.5,148.2 L354.9,148.2 L355.3,148.1 L355.7,148.1 L356.1,148.1 L356.5,148.1 L356.9,148.1 L357.3,148.0 L357.7,148.0 L358.1,148.0 L358.5,147.9 L358.9,147.9 L359.3,147.8 L359.7,147.8 L360.1,147.7 L360.5,147.6 L360.9,147.5 L361.3,147.4 L361.7,147.3 L362.1,147.2 L362.5,147.1 L362.8,146.9 L363.2,146.7 L363.6,146.5 L364.0,146.2 L364.4,146.0 L364.8,145.7 L365.2,145.3 L365.6,144.9 L366.0,144.5 L366.4,144.1 L366.8,143.6 L367.2,143.1 L367.6,142.5 L368.0,141.9 L368.4,141.2 L368.8,140.6 L369.2,139.9 L369.6,139.1 L370.0,138.4 L370.4,137.7 L370.8,136.9 L371.2,136.2 L371.6,135.5 L372.0,134.8 L372.3,134.1 L372.7,133.5 L373.1,133.0 L373.5,132.6 L373.9,132.2 L374.3,131.9 L374.7,131.8 L375.1,131.8 L375.5,131.8 L375.9,132.0 L376.3,132.3 L376.7,132.7 L377.1,133.2 L377.5,133.7 L377.9,134.3 L378.3,134.9 L378.7,135.6 L379.1,136.3 L379.5,137.1 L379.9,137.8 L380.3,138.5 L380.7,139.2 L381.1,139.9 L381.5,140.6 L381.8,141.2 L382.2,141.8 L382.6,142.4 L383.0,142.9 L383.4,143.4 L383.8,143.8 L384.2,144.2 L384.6,144.6 L385.0,144.9 L385.4,145.2 L385.8,145.5 L386.2,145.8 L386.6,146.0 L387.0,146.1 L387.4,146.3 L387.8,146.4 L388.2,146.6 L388.6,146.7 L389.0,146.7 L389.4,146.8 L389.8,146.9 L390.2,146.9 L390.6,147.0 L391.0,147.0 L391.3,147.0 L391.7,147.0 L392.1,147.0 L392.5,147.0 L392.9,147.0 L393.3,147.0 L393.7,147.0 L394.1,147.0 L394.5,147.0 L394.9,147.0 L395.3,146.9 L395.7,146.9 L396.1,146.9 L396.5,146.8 L396.9,146.8 L397.3,146.8 L397.7,146.7 L398.1,146.7 L398.5,146.6 L398.9,146.6 L399.3,146.5 L399.7,146.5 L400.1,146.4 L400.5,146.3 L400.8,146.3 L401.2,146.2 L401.6,146.2 L402.0,146.1 L402.4,146.0 L402.8,145.9 L403.2,145.9 L403.6,145.8 L404.0,145.7 L404.4,145.7 L404.8,145.6 L405.2,145.5 L405.6,145.5 L406.0,145.4 L406.4,145.4 L406.8,145.3 L407.2,145.2 L407.6,145.2 L408.0,145.1 L408.4,145.1 L408.8,145.1 L409.2,145.0 L409.6,145.0 L410.0,144.9 L410.3,144.9 L410.7,144.9 L411.1,144.8 L411.5,144.8 L411.9,144.8 L412.3,144.7 L412.7,144.7 L413.1,144.7 L413.5,144.7 L413.9,144.6 L414.3,144.6 L414.7,144.6 L415.1,144.6 L415.5,144.6 L415.9,144.5 L416.3,144.5 L416.7,144.5 L417.1,144.5 L417.5,144.5 L417.9,144.5 L418.3,144.5 L418.7,144.5 L419.1,144.4 L419.5,144.4 L419.8,144.4 L420.2,144.4 L420.6,144.4 L421.0,144.4 L421.4,144.4 L421.8,144.4 L422.2,144.4 L422.6,144.4 L423.0,144.4 L423.4,144.4 L423.8,144.3 L424.2,144.3 L424.6,144.3 L425.0,144.3 L425.4,144.3 L425.8,144.3 L426.2,144.3 L426.6,144.3 L427.0,144.3 L427.4,144.3 L427.8,144.3 L428.2,144.3 L428.6,144.3 L429.0,144.3 L429.3,144.3 L429.7,144.3 L430.1,144.3 L430.5,144.3 L430.9,144.3 L431.3,144.2 L431.7,144.2 L432.1,144.2 L432.5,144.2 L432.9,144.2 L433.3,144.2 L433.7,144.2 L434.1,144.2 L434.5,144.2 L434.9,144.2 L435.3,144.2 L435.7,144.2 L436.1,144.2 L436.5,144.2 L436.9,144.2 L437.3,144.2 L437.7,144.2 L438.1,144.2 L438.5,144.2 L438.8,144.2 L439.2,144.2 L439.6,144.2 L440.0,144.2 L440.4,144.2 L440.8,144.2 L441.2,144.2 L441.6,144.2 L442.0,144.1 L442.4,144.1 L442.8,144.1 L443.2,144.1 L443.6,144.1 L444.0,144.1 L444.4,144.1 L444.8,144.1 L445.2,144.1 L445.6,144.1 L446.0,144.1 L446.4,144.1 L446.8,144.1 L447.2,144.1 L447.6,144.1 L448.0,144.1 L448.3,144.1 L448.7,144.1 L449.1,144.1 L449.5,144.0 L449.9,144.0 L450.3,144.0 L450.7,144.0 L451.1,144.0 L451.5,144.0 L451.9,144.0 L452.3,144.0 L452.7,144.0 L453.1,144.0 L453.5,144.0 L453.9,143.9 L454.3,143.9 L454.7,143.9 L455.1,143.9 L455.5,143.9 L455.9,143.9 L456.3,143.9 L456.7,143.9 L457.1,143.9 L457.5,143.8 L457.8,143.8 L458.2,143.8 L458.6,143.8 L459.0,143.8 L459.4,143.8 L459.8,143.8 L460.2,143.8 L460.6,143.8 L461.0,143.8 L461.4,143.7 L461.8,143.7 L462.2,143.7 L462.6,143.7 L463.0,143.7 L463.4,143.7 L463.8,143.7 L464.2,143.7 L464.6,143.7 L465.0,143.7 L465.4,143.6 L465.8,143.6 L466.2,143.6 L466.6,143.6 L467.0,143.6 L467.3,143.6 L467.7,143.6 L468.1,143.6 L468.5,143.5 L468.9,143.5 L469.3,143.5 L469.7,143.5 L470.1,143.5 L470.5,143.5 L470.9,143.4 L471.3,143.4 L471.7,143.4 L472.1,143.4 L472.5,143.4 L472.9,143.3 L473.3,143.3 L473.7,143.3 L474.1,143.2 L474.5,143.2 L474.9,143.2 L475.3,143.1 L475.7,143.1 L476.1,143.1 L476.5,143.0 L476.8,143.0 L477.2,142.9 L477.6,142.9 L478.0,142.9 L478.4,142.8 L478.8,142.8 L479.2,142.7 L479.6,142.6 L480.0,142.6 L480.4,142.5 L480.8,142.5 L481.2,142.4 L481.6,142.4 L482.0,142.3 L482.4,142.3 L482.8,142.2 L483.2,142.1 L483.6,142.1 L484.0,142.0 L484.4,142.0 L484.8,141.9 L485.2,141.9 L485.6,141.8 L486.0,141.8 L486.3,141.7 L486.7,141.7 L487.1,141.7 L487.5,141.6 L487.9,141.6 L488.3,141.6 L488.7,141.5 L489.1,141.5 L489.5,141.5 L489.9,141.4 L490.3,141.4 L490.7,141.4 L491.1,141.4 L491.5,141.3 L491.9,141.3 L492.3,141.3 L492.7,141.3 L493.1,141.3 L493.5,141.2 L493.9,141.2 L494.3,141.2 L494.7,141.2 L495.1,141.2 L495.5,141.2 L495.8,141.2 L496.2,141.1 L496.6,141.1 L497.0,141.1 L497.4,141.1 L497.8,141.1 L498.2,141.1 L498.6,141.1 L499.0,141.1 L499.4,141.1 L499.8,141.1 L500.2,141.1 L500.6,141.0 L501.0,141.0 L501.4,141.0 L501.8,141.0 L502.2,141.0 L502.6,141.0 L503.0,141.0 L503.4,141.0 L503.8,141.0 L504.2,141.0 L504.6,141.0 L505.0,141.0 L505.3,141.0 L505.7,141.0 L506.1,141.0 L506.5,141.0 L506.9,141.0 L507.3,141.0 L507.7,140.9 L508.1,140.9 L508.5,140.9 L508.9,140.9 L509.3,140.9 L509.7,140.9 L510.1,140.9 L510.5,140.9 L510.9,140.9 L511.3,140.9 L511.7,140.9 L512.1,140.9 L512.5,140.9 L512.9,140.9 L513.3,140.9 L513.7,140.9 L514.1,140.9 L514.5,140.9 L514.8,140.9 L515.2,140.9 L515.6,140.9 L516.0,140.9 L516.4,140.9 L516.8,140.9 L517.2,140.9 L517.6,140.9 L518.0,140.9 L518.4,140.9 L518.8,140.9 L519.2,140.9 L519.6,140.9 L520.0,140.9 L520.4,140.9 L520.8,140.9 L521.2,140.9 L521.6,140.9 L522.0,140.8 L522.4,140.8 L522.8,140.8 L523.2,140.8 L523.6,140.8 L524.0,140.8 L524.3,140.8 L524.7,140.8 L525.1,140.8 L525.5,140.8 L525.9,140.8 L526.3,140.8 L526.7,140.8 L527.1,140.8 L527.5,140.8 L527.9,140.8 L528.3,140.8 L528.7,140.8 L529.1,140.8 L529.5,140.8 L529.9,140.8 L530.3,140.8 L530.7,140.8 L531.1,140.8 L531.5,140.8 L531.9,140.8 L532.3,140.8 L532.7,140.8 L533.1,140.8 L533.5,140.8 L533.8,140.8 L534.2,140.8 L534.6,140.8 L535.0,140.8 L535.4,140.8 L535.8,140.8 L536.2,140.8 L536.6,140.8 L537.0,140.8 L537.4,140.8 L537.8,140.8 L538.2,140.8" fill="none" stroke="#9a22ee" stroke-width="1.5" stroke-linejoin="round" stroke-linecap="round"/>
<path d="M301.1,147.7 L301.5,147.7 L301.9,147.7 L302.3,147.7 L302.7,147.7 L303.1,147.7 L303.5,147.7 L303.9,147.7 L304.3,147.7 L304.7,147.7 L305.1,147.7 L305.5,147.7 L305.8,147.7 L306.2,147.7 L306.6,147.7 L307.0,147.6 L307.4,147.6 L307.8,147.6 L308.2,147.6 L308.6,147.6 L309.0,147.6 L309.4,147.6 L309.8,147.6 L310.2,147.6 L310.6,147.6 L311.0,147.6 L311.4,147.6 L311.8,147.6 L312.2,147.6 L312.6,147.6 L313.0,147.6 L313.4,147.6 L313.8,147.6 L314.2,147.5 L314.6,147.5 L315.0,147.5 L315.3,147.5 L315.7,147.5 L316.1,147.5 L316.5,147.5 L316.9,147.5 L317.3,147.5 L317.7,147.5 L318.1,147.5 L318.5,147.5 L318.9,147.5 L319.3,147.5 L319.7,147.5 L320.1,147.4 L320.5,147.4 L320.9,147.4 L321.3,147.4 L321.7,147.4 L322.1,147.4 L322.5,147.4 L322.9,147.4 L323.3,147.4 L323.7,147.4 L324.1,147.4 L324.5,147.4 L324.8,147.3 L325.2,147.3 L325.6,147.3 L326.0,147.3 L326.4,147.3 L326.8,147.3 L327.2,147.3 L327.6,147.3 L328.0,147.3 L328.4,147.3 L328.8,147.2 L329.2,147.2 L329.6,147.2 L330.0,147.2 L330.4,147.2 L330.8,147.2 L331.2,147.2 L331.6,147.2 L332.0,147.2 L332.4,147.1 L332.8,147.1 L333.2,147.1 L333.6,147.1 L334.0,147.1 L334.3,147.1 L334.7,147.1 L335.1,147.1 L335.5,147.0 L335.9,147.0 L336.3,147.0 L336.7,147.0 L337.1,147.0 L337.5,147.0 L337.9,147.0 L338.3,146.9 L338.7,146.9 L339.1,146.9 L339.5,146.9 L339.9,146.9 L340.3,146.9 L340.7,146.8 L341.1,146.8 L341.5,146.8 L341.9,146.8 L342.3,146.8 L342.7,146.8 L343.1,146.7 L343.5,146.7 L343.8,146.7 L344.2,146.7 L344.6,146.7 L345.0,146.6 L345.4,146.6 L345.8,146.6 L346.2,146.6 L346.6,146.5 L347.0,146.5 L347.4,146.5 L347.8,146.5 L348.2,146.5 L348.6,146.4 L349.0,146.4 L349.4,146.4 L349.8,146.3 L350.2,146.3 L350.6,146.3 L351.0,146.3 L351.4,146.2 L351.8,146.2 L352.2,146.2 L352.6,146.1 L353.0,146.1 L353.3,146.1 L353.7,146.0 L354.1,146.0 L354.5,146.0 L354.9,145.9 L355.3,145.9 L355.7,145.9 L356.1,145.8 L356.5,145.8 L356.9,145.7 L357.3,145.7 L357.7,145.7 L358.1,145.6 L358.5,145.6 L358.9,145.5 L359.3,145.5 L359.7,145.4 L360.1,145.4 L360.5,145.3 L360.9,145.3 L361.3,145.2 L361.7,145.2 L362.1,145.1 L362.5,145.1 L362.8,145.0 L363.2,144.9 L363.6,144.9 L364.0,144.8 L364.4,144.7 L364.8,144.7 L365.2,144.6 L365.6,144.5 L366.0,144.4 L366.4,144.4 L366.8,144.3 L367.2,144.2 L367.6,144.1 L368.0,144.0 L368.4,143.9 L368.8,143.8 L369.2,143.7 L369.6,143.6 L370.0,143.5 L370.4,143.4 L370.8,143.3 L371.2,143.2 L371.6,143.0 L372.0,142.9 L372.3,142.8 L372.7,142.6 L373.1,142.5 L373.5,142.3 L373.9,142.2 L374.3,142.0 L374.7,141.8 L375.1,141.7 L375.5,141.5 L375.9,141.3 L376.3,141.1 L376.7,140.9 L377.1,140.7 L377.5,140.5 L377.9,140.2 L378.3,140.0 L378.7,139.7 L379.1,139.5 L379.5,139.2 L379.9,138.9 L380.3,138.6 L380.7,138.3 L381.1,137.9 L381.5,137.6 L381.8,137.2 L382.2,136.8 L382.6,136.4 L383.0,135.9 L383.4,135.4 L383.8,134.9 L384.2,134.3 L384.6,133.7 L385.0,133.1 L385.4,132.4 L385.8,131.6 L386.2,130.8 L386.6,130.0 L387.0,129.0 L387.4,128.0 L387.8,127.0 L388.2,125.8 L388.6,124.6 L389.0,123.3 L389.4,121.8 L389.8,120.3 L390.2,118.7 L390.6,117.0 L391.0,115.1 L391.3,113.2 L391.7,111.1 L392.1,108.8 L392.5,106.5 L392.9,104.0 L393.3,101.4 L393.7,98.7 L394.1,95.8 L394.5,92.8 L394.9,89.7 L395.3,86.5 L395.7,83.1 L396.1,79.7 L396.5,76.1 L396.9,72.5 L397.3,68.9 L397.7,65.2 L398.1,61.5 L398.5,57.9 L398.9,54.3 L399.3,50.9 L399.7,47.6 L400.1,44.5 L400.5,41.7 L400.8,39.2 L401.2,37.1 L401.6,35.4 L402.0,34.1 L402.4,33.4 L402.8,33.1 L403.2,33.3 L403.6,34.0 L404.0,35.2 L404.4,36.8 L404.8,38.8 L405.2,41.2 L405.6,43.9 L406.0,46.9 L406.4,50.0 L406.8,53.4 L407.2,56.8 L407.6,60.4 L408.0,63.9 L408.4,67.5 L408.8,71.1 L409.2,74.6 L409.6,78.0 L410.0,81.4 L410.3,84.6 L410.7,87.7 L411.1,90.8 L411.5,93.7 L411.9,96.5 L412.3,99.1 L412.7,101.7 L413.1,104.1 L413.5,106.3 L413.9,108.5 L414.3,110.5 L414.7,112.4 L415.1,114.2 L415.5,115.9 L415.9,117.4 L416.3,118.9 L416.7,120.3 L417.1,121.6 L417.5,122.7 L417.9,123.9 L418.3,124.9 L418.7,125.8 L419.1,126.7 L419.5,127.6 L419.8,128.3 L420.2,129.0 L420.6,129.7 L421.0,130.3 L421.4,130.9 L421.8,131.4 L422.2,132.0 L422.6,132.4 L423.0,132.9 L423.4,133.3 L423.8,133.7 L424.2,134.0 L424.6,134.4 L425.0,134.7 L425.4,135.0 L425.8,135.3 L426.2,135.5 L426.6,135.8 L427.0,136.0 L427.4,136.3 L427.8,136.5 L428.2,136.7 L428.6,136.9 L429.0,137.1 L429.3,137.3 L429.7,137.4 L430.1,137.6 L430.5,137.8 L430.9,137.9 L431.3,138.1 L431.7,138.2 L432.1,138.3 L432.5,138.5 L432.9,138.6 L433.3,138.7 L433.7,138.8 L434.1,138.9 L434.5,139.0 L434.9,139.2 L435.3,139.3 L435.7,139.3 L436.1,139.4 L436.5,139.5 L436.9,139.6 L437.3,139.7 L437.7,139.8 L438.1,139.9 L438.5,139.9 L438.8,140.0 L439.2,140.1 L439.6,140.2 L440.0,140.2 L440.4,140.3 L440.8,140.4 L441.2,140.4 L441.6,140.5 L442.0,140.5 L442.4,140.6 L442.8,140.6 L443.2,140.7 L443.6,140.8 L444.0,140.8 L444.4,140.8 L444.8,140.9 L445.2,140.9 L445.6,141.0 L446.0,141.0 L446.4,141.1 L446.8,141.1 L447.2,141.1 L447.6,141.2 L448.0,141.2 L448.3,141.2 L448.7,141.3 L449.1,141.3 L449.5,141.3 L449.9,141.4 L450.3,141.4 L450.7,141.4 L451.1,141.4 L451.5,141.5 L451.9,141.5 L452.3,141.5 L452.7,141.5 L453.1,141.5 L453.5,141.6 L453.9,141.6 L454.3,141.6 L454.7,141.6 L455.1,141.6 L455.5,141.6 L455.9,141.7 L456.3,141.7 L456.7,141.7 L457.1,141.7 L457.5,141.7 L457.8,141.7 L458.2,141.7 L458.6,141.7 L459.0,141.8 L459.4,141.8 L459.8,141.8 L460.2,141.8 L460.6,141.8 L461.0,141.8 L461.4,141.8 L461.8,141.8 L462.2,141.8 L462.6,141.9 L463.0,141.9 L463.4,141.9 L463.8,141.9 L464.2,141.9 L464.6,141.9 L465.0,141.9 L465.4,141.9 L465.8,141.9 L466.2,141.9 L466.6,141.9 L467.0,141.9 L467.3,141.9 L467.7,141.9 L468.1,141.9 L468.5,141.9 L468.9,141.9 L469.3,141.9 L469.7,141.9 L470.1,141.9 L470.5,141.9 L470.9,141.9 L471.3,141.9 L471.7,141.9 L472.1,141.9 L472.5,141.8 L472.9,141.8 L473.3,141.8 L473.7,141.8 L474.1,141.8 L474.5,141.8 L474.9,141.7 L475.3,141.7 L475.7,141.7 L476.1,141.7 L476.5,141.6 L476.8,141.6 L477.2,141.6 L477.6,141.5 L478.0,141.5 L478.4,141.4 L478.8,141.4 L479.2,141.4 L479.6,141.3 L480.0,141.3 L480.4,141.2 L480.8,141.2 L481.2,141.1 L481.6,141.1 L482.0,141.0 L482.4,141.0 L482.8,140.9 L483.2,140.9 L483.6,140.8 L484.0,140.8 L484.4,140.7 L484.8,140.7 L485.2,140.7 L485.6,140.6 L486.0,140.6 L486.3,140.5 L486.7,140.5 L487.1,140.5 L487.5,140.4 L487.9,140.4 L488.3,140.4 L488.7,140.4 L489.1,140.3 L489.5,140.3 L489.9,140.3 L490.3,140.3 L490.7,140.3 L491.1,140.2 L491.5,140.2 L491.9,140.2 L492.3,140.2 L492.7,140.2 L493.1,140.2 L493.5,140.1 L493.9,140.1 L494.3,140.1 L494.7,140.1 L495.1,140.1 L495.5,140.1 L495.8,140.1 L496.2,140.1 L496.6,140.1 L497.0,140.1 L497.4,140.1 L497.8,140.1 L498.2,140.1 L498.6,140.0 L499.0,140.0 L499.4,140.0 L499.8,140.0 L500.2,140.0 L500.6,140.0 L501.0,140.0 L501.4,140.0 L501.8,140.0 L502.2,140.0 L502.6,140.0 L503.0,140.0 L503.4,140.0 L503.8,140.0 L504.2,140.0 L504.6,140.0 L505.0,140.0 L505.3,140.0 L505.7,140.0 L506.1,140.0 L506.5,140.0 L506.9,140.0 L507.3,140.0 L507.7,140.0 L508.1,140.0 L508.5,140.0 L508.9,140.0 L509.3,140.0 L509.7,140.0 L510.1,140.0 L510.5,140.0 L510.9,140.0 L511.3,140.0 L511.7,140.0 L512.1,140.0 L512.5,140.0 L512.9,140.0 L513.3,140.0 L513.7,140.0 L514.1,140.0 L514.5,140.0 L514.8,140.0 L515.2,140.0 L515.6,140.0 L516.0,140.0 L516.4,140.0 L516.8,140.0 L517.2,140.0 L517.6,140.0 L518.0,140.0 L518.4,140.0 L518.8,140.0 L519.2,140.0 L519.6,140.0 L520.0,140.0 L520.4,140.0 L520.8,140.0 L521.2,140.0 L521.6,140.0 L522.0,140.0 L522.4,140.0 L522.8,140.0 L523.2,140.0 L523.6,140.0 L524.0,140.0 L524.3,140.0 L524.7,140.0 L525.1,140.0 L525.5,140.0 L525.9,140.0 L526.3,140.0 L526.7,140.0 L527.1,140.0 L527.5,140.0 L527.9,140.0 L528.3,140.0 L528.7,140.0 L529.1,140.0 L529.5,140.0 L529.9,140.0 L530.3,140.0 L530.7,140.0 L531.1,140.0 L531.5,140.0 L531.9,140.0 L532.3,140.0 L532.7,140.0 L533.1,140.0 L533.5,140.0 L533.8,140.0 L534.2,140.0 L534.6,140.0 L535.0,140.0 L535.4,140.0 L535.8,140.0 L536.2,140.0 L536.6,140.0 L537.0,140.0 L537.4,140.0 L537.8,140.0 L538.2,140.0" fill="none" stroke="#2020b4" stroke-width="1.3" stroke-linejoin="round" stroke-linecap="round"/>
<path d="M414.3,112.5 L414.7,114.5 L415.1,116.5 L415.5,118.6 L415.9,120.3 L416.3,121.5 L416.7,122.8 L417.1,124.0 L417.5,125.7 L417.9,126.7 L418.3,128.4 L418.7,131.3 L419.1,133.7 L419.5,136.1 L419.8,136.2 L420.2,136.5 L420.6,136.5 L421.0,136.9 L421.4,137.0 L421.8,136.2 L422.2,135.8 L422.6,138.7 L423.0,141.9 L423.4,144.9 L423.8,144.3 L424.2,143.0 L424.6,141.3 L425.0,141.5 L425.4,141.3 L425.8,141.1 L426.2,141.0 L426.6,141.4 L427.0,141.5 L427.4,141.7 L427.8,141.5 L428.2,140.9 L428.6,140.5 L429.0,140.5 L429.3,140.5 L429.7,140.9 L430.1,141.4 L430.5,141.2 L430.9,141.1 L431.3,141.0 L431.7,140.8 L432.1,140.6 L432.5,141.0 L432.9,141.0 L433.3,140.9 L433.7,141.1 L434.1,141.5 L434.5,141.1 L434.9,140.3 L435.3,140.6 L435.7,140.4 L436.1,140.6 L436.5,140.5 L436.9,140.6 L437.3,140.6 L437.7,141.3 L438.1,140.7 L438.5,140.8 L438.8,140.2 L439.2,140.2 L439.6,139.7 L440.0,139.7 L440.4,139.7 L440.8,139.1 L441.2,139.3 L441.6,138.9 L442.0,138.5 L442.4,138.2 L442.8,137.7 L443.2,137.2 L443.6,136.5 L444.0,135.9 L444.4,134.3 L444.8,132.5 L445.2,131.5 L445.6,131.7 L446.0,131.8 L446.4,131.3 L446.8,131.5 L447.2,131.2 L447.6,130.7 L448.0,130.6 L448.3,129.9 L448.7,129.8 L449.1,128.9 L449.5,128.9 L449.9,128.6 L450.3,128.3 L450.7,128.3 L451.1,127.8 L451.5,127.3 L451.9,126.5 L452.3,125.7 L452.7,125.3 L453.1,124.7 L453.5,124.9 L453.9,124.9 L454.3,125.3 L454.7,125.5 L455.1,126.7 L455.5,127.2 L455.9,127.8 L456.3,128.1 L456.7,128.1 L457.1,127.5 L457.5,127.4 L457.8,127.1 L458.2,126.6 L458.6,126.5 L459.0,125.8 L459.4,125.4 L459.8,125.8 L460.2,125.8 L460.6,126.3 L461.0,126.3 L461.4,126.0 L461.8,125.6 L462.2,126.0 L462.6,125.4 L463.0,125.2 L463.4,124.7 L463.8,124.2 L464.2,123.6 L464.6,123.4 L465.0,122.4 L465.4,122.0 L465.8,121.9 L466.2,123.3 L466.6,122.8 L467.0,121.9 L467.3,120.5" fill="none" stroke="#111111" stroke-width="1.1" stroke-linejoin="round" stroke-linecap="round"/>
<path d="M487.1,71.8 L487.5,74.1 L487.9,76.3 L488.3,78.9 L488.7,81.7 L489.1,84.8 L489.5,87.8 L489.9,90.0 L490.3,91.6 L490.7,93.7 L491.1,95.4 L491.5,96.9 L491.9,98.5 L492.3,100.2 L492.7,101.5 L493.1,103.8 L493.5,105.6 L493.9,107.4 L494.3,109.4 L494.7,111.2 L495.1,113.2 L495.5,115.4 L495.8,117.3 L496.2,119.1 L496.6,120.6 L497.0,122.8 L497.4,124.5 L497.8,125.9 L498.2,127.1 L498.6,128.2 L499.0,129.9 L499.4,130.8 L499.8,131.5 L500.2,133.2 L500.6,134.0 L501.0,134.9 L501.4,136.0 L501.8,137.2 L502.2,137.8 L502.6,138.7 L503.0,139.8 L503.4,140.5 L503.8,140.8 L504.2,141.3 L504.6,141.7 L505.0,142.3 L505.3,142.3 L505.7,141.9 L506.1,141.5 L506.5,141.4 L506.9,140.8 L507.3,140.6 L507.7,140.5 L508.1,140.4 L508.5,140.6 L508.9,140.6 L509.3,140.7 L509.7,140.7 L510.1,140.1 L510.5,139.7 L510.9,139.7 L511.3,139.3 L511.7,139.8 L512.1,139.9 L512.5,140.6 L512.9,141.0 L513.3,141.7 L513.7,142.2 L514.1,143.1 L514.5,143.0 L514.8,142.6 L515.2,142.1 L515.6,141.9 L516.0,141.9 L516.4,141.1 L516.8,141.4 L517.2,141.6 L517.6,142.1 L518.0,142.8 L518.4,143.1 L518.8,143.3 L519.2,143.6 L519.6,144.0 L520.0,144.1 L520.4,143.6 L520.8,143.2 L521.2,142.8 L521.6,141.9 L522.0,141.8 L522.4,141.8 L522.8,141.9 L523.2,142.5 L523.6,143.7 L524.0,144.2 L524.3,145.1 L524.7,145.9 L525.1,146.8 L525.5,146.9 L525.9,145.1 L526.3,143.9 L526.7,143.3 L527.1,142.7 L527.5,142.1 L527.9,142.1 L528.3,142.0 L528.7,142.2 L529.1,142.2 L529.5,142.7 L529.9,142.7 L530.3,143.3 L530.7,143.2 L531.1,143.4 L531.5,143.1 L531.9,142.5 L532.3,142.4 L532.7,142.0 L533.1,141.6 L533.5,141.6 L533.8,141.3 L534.2,141.7 L534.6,141.7 L535.0,142.1 L535.4,142.8 L535.8,142.7 L536.2,142.3 L536.6,141.6 L537.0,141.2 L537.4,141.3 L537.8,140.9 L538.2,140.6" fill="none" stroke="#111111" stroke-width="1.1" stroke-linejoin="round" stroke-linecap="round"/>
<rect x="300.5" y="5.2" width="238.29999999999995" height="160.20000000000002" fill="none" stroke="#0d0d0d" stroke-width="1.5"/>
<text x="300.50" y="180.9" text-anchor="middle" style="font-family:'Liberation Serif','Times New Roman',serif;font-weight:bold;font-size:12.5px">152</text>
<text x="360.07" y="180.9" text-anchor="middle" style="font-family:'Liberation Serif','Times New Roman',serif;font-weight:bold;font-size:12.5px">156</text>
<text x="419.65" y="180.9" text-anchor="middle" style="font-family:'Liberation Serif','Times New Roman',serif;font-weight:bold;font-size:12.5px">160</text>
<text x="479.22" y="180.9" text-anchor="middle" style="font-family:'Liberation Serif','Times New Roman',serif;font-weight:bold;font-size:12.5px">164</text>
<text x="538.80" y="180.9" text-anchor="middle" style="font-family:'Liberation Serif','Times New Roman',serif;font-weight:bold;font-size:12.5px">168</text>
<path d="M300.50,165.4 v3 M330.29,165.4 v1.8 M360.07,165.4 v3 M389.86,165.4 v1.8 M419.65,165.4 v3 M449.44,165.4 v1.8 M479.22,165.4 v3 M509.01,165.4 v1.8 M538.80,165.4 v3" stroke="#1a1a1a" stroke-width="1.3" fill="none"/>
<text x="419.5" y="199.8" text-anchor="middle" style="font-family:'Liberation Serif','Times New Roman',serif;font-weight:bold;font-size:14px">Binding Energy(eV)</text>
<text transform="translate(285.6,86.5) rotate(-90)" text-anchor="middle" style="font-family:'Liberation Serif','Times New Roman',serif;font-weight:bold;font-size:14px">Intensity (a.u.)</text>
<text x="275.8" y="22.6" text-anchor="start" style="font-family:'Liberation Serif','Times New Roman',serif;font-weight:bold;font-size:23.5px">b</text>
<text x="533.6" y="21.9" text-anchor="end" style="font-family:'Liberation Serif','Times New Roman',serif;font-weight:bold;font-size:12.4px">Bi 4f</text>
<text x="436.2" y="32.1" text-anchor="start" style="font-family:'Liberation Serif','Times New Roman',serif;font-weight:bold;font-size:9px">Bi–O–Ti</text>
<text x="351.4" y="101.1" text-anchor="start" style="font-family:'Liberation Serif','Times New Roman',serif;font-weight:bold;font-size:9px">Bi–O–Bi</text>
<path d="M404.00,45.50 L430.29,33.57" stroke="#111" stroke-width="1.1" fill="none"/>
<path d="M435.30,31.30 L431.20,35.58 L429.38,31.57 Z" fill="#111"/>
<path d="M478.60,67.00 L460.22,39.09" stroke="#111" stroke-width="1.1" fill="none"/>
<path d="M457.20,34.50 L462.06,37.88 L458.39,40.30 Z" fill="#111"/>
<path d="M374.60,126.50 L371.69,108.63" stroke="#111" stroke-width="1.1" fill="none"/>
<path d="M370.80,103.20 L373.86,108.27 L369.51,108.98 Z" fill="#111"/>
<path d="M451.50,134.50 L384.25,105.39" stroke="#111" stroke-width="1.1" fill="none"/>
<path d="M379.20,103.20 L385.12,103.37 L383.37,107.40 Z" fill="#111"/>
<path d="M30.5,361.0 L31.0,361.0 L31.5,361.0 L32.0,361.0 L32.5,360.9 L33.0,360.9 L33.5,360.9 L34.0,360.9 L34.5,360.9 L35.0,360.9 L35.5,360.9 L36.0,360.9 L36.5,360.9 L37.0,360.9 L37.5,360.8 L38.0,360.8 L38.5,360.8 L39.0,360.8 L39.6,360.8 L40.1,360.8 L40.6,360.8 L41.1,360.8 L41.6,360.8 L42.1,360.8 L42.6,360.7 L43.1,360.7 L43.6,360.7 L44.1,360.7 L44.6,360.7 L45.1,360.7 L45.6,360.7 L46.1,360.7 L46.6,360.7 L47.1,360.7 L47.6,360.6 L48.1,360.6 L48.6,360.6 L49.1,360.6 L49.6,360.6 L50.1,360.6 L50.6,360.6 L51.1,360.6 L51.6,360.6 L52.1,360.6 L52.6,360.5 L53.1,360.5 L53.6,360.5 L54.1,360.5 L54.6,360.5 L55.1,360.5 L55.6,360.5 L56.1,360.5 L56.6,360.5 L57.2,360.5 L57.7,360.4 L58.2,360.4 L58.7,360.4 L59.2,360.4 L59.7,360.4 L60.2,360.4 L60.7,360.4 L61.2,360.4 L61.7,360.4 L62.2,360.4 L62.7,360.3 L63.2,360.3 L63.7,360.3 L64.2,360.3 L64.7,360.3 L65.2,360.3 L65.7,360.3 L66.2,360.3 L66.7,360.3 L67.2,360.3 L67.7,360.2 L68.2,360.2 L68.7,360.2 L69.2,360.2 L69.7,360.2 L70.2,360.2 L70.7,360.2 L71.2,360.2 L71.7,360.2 L72.2,360.2 L72.7,360.1 L73.2,360.1 L73.7,360.1 L74.2,360.1 L74.8,360.1 L75.3,360.1 L75.8,360.1 L76.3,360.1 L76.8,360.1 L77.3,360.1 L77.8,360.0 L78.3,360.0 L78.8,360.0 L79.3,360.0 L79.8,360.0 L80.3,360.0 L80.8,360.0 L81.3,360.0 L81.8,359.9 L82.3,359.9 L82.8,359.9 L83.3,359.9 L83.8,359.9 L84.3,359.8 L84.8,359.8 L85.3,359.8 L85.8,359.8 L86.3,359.8 L86.8,359.7 L87.3,359.7 L87.8,359.7 L88.3,359.7 L88.8,359.7 L89.3,359.7 L89.8,359.6 L90.3,359.6 L90.8,359.6 L91.3,359.6 L91.8,359.6 L92.4,359.5 L92.9,359.5 L93.4,359.5 L93.9,359.5 L94.4,359.5 L94.9,359.5 L95.4,359.4 L95.9,359.4 L96.4,359.4 L96.9,359.4 L97.4,359.4 L97.9,359.3 L98.4,359.3 L98.9,359.3 L99.4,359.3 L99.9,359.3 L100.4,359.3 L100.9,359.2 L101.4,359.2 L101.9,359.2 L102.4,359.2 L102.9,359.2 L103.4,359.1 L103.9,359.1 L104.4,359.1 L104.9,359.1 L105.4,359.1 L105.9,359.0 L106.4,359.0 L106.9,359.0 L107.4,359.0 L107.9,359.0 L108.4,359.0 L108.9,358.9 L109.4,358.9 L110.0,358.9 L110.5,358.9 L111.0,358.9 L111.5,358.9 L112.0,358.9 L112.5,358.9 L113.0,358.8 L113.5,358.8 L114.0,358.8 L114.5,358.8 L115.0,358.8 L115.5,358.8 L116.0,358.8 L116.5,358.8 L117.0,358.8 L117.5,358.8 L118.0,358.7 L118.5,358.7 L119.0,358.7 L119.5,358.7 L120.0,358.7 L120.5,358.7 L121.0,358.7 L121.5,358.7 L122.0,358.7 L122.5,358.6 L123.0,358.6 L123.5,358.6 L124.0,358.6 L124.5,358.6 L125.0,358.6 L125.5,358.6 L126.0,358.6 L126.5,358.6 L127.0,358.6 L127.6,358.5 L128.1,358.5 L128.6,358.5 L129.1,358.5 L129.6,358.5 L130.1,358.5 L130.6,358.5 L131.1,358.5 L131.6,358.5 L132.1,358.5 L132.6,358.4 L133.1,358.4 L133.6,358.4 L134.1,358.4 L134.6,358.4 L135.1,358.4 L135.6,358.4 L136.1,358.4 L136.6,358.4 L137.1,358.4 L137.6,358.3 L138.1,358.3 L138.6,358.3 L139.1,358.3 L139.6,358.3 L140.1,358.3 L140.6,358.3 L141.1,358.3 L141.6,358.3 L142.1,358.3 L142.6,358.2 L143.1,358.2 L143.6,358.2 L144.1,358.2 L144.7,358.2 L145.2,358.2 L145.7,358.2 L146.2,358.2 L146.7,358.2 L147.2,358.2 L147.7,358.1 L148.2,358.1 L148.7,358.1 L149.2,358.1 L149.7,358.1 L150.2,358.1 L150.7,358.1 L151.2,358.1 L151.7,358.1 L152.2,358.1 L152.7,358.1 L153.2,358.1 L153.7,358.0 L154.2,358.0 L154.7,358.0 L155.2,358.0 L155.7,358.0 L156.2,358.0 L156.7,358.0 L157.2,358.0 L157.7,358.0 L158.2,358.0 L158.7,358.0 L159.2,358.0 L159.7,358.0 L160.2,357.9 L160.7,357.9 L161.2,357.9 L161.7,357.9 L162.3,357.9 L162.8,357.9 L163.3,357.9 L163.8,357.9 L164.3,357.9 L164.8,357.9 L165.3,357.9 L165.8,357.9 L166.3,357.9 L166.8,357.8 L167.3,357.8 L167.8,357.8 L168.3,357.8 L168.8,357.8 L169.3,357.8 L169.8,357.8 L170.3,357.8 L170.8,357.8 L171.3,357.8 L171.8,357.8 L172.3,357.8 L172.8,357.8 L173.3,357.8 L173.8,357.7 L174.3,357.7 L174.8,357.7 L175.3,357.7 L175.8,357.7 L176.3,357.7 L176.8,357.7 L177.3,357.7 L177.8,357.7 L178.3,357.7 L178.8,357.7 L179.3,357.7 L179.9,357.7 L180.4,357.6 L180.9,357.6 L181.4,357.6 L181.9,357.6 L182.4,357.6 L182.9,357.6 L183.4,357.6 L183.9,357.6 L184.4,357.6 L184.9,357.6 L185.4,357.6 L185.9,357.6 L186.4,357.6 L186.9,357.5 L187.4,357.5 L187.9,357.5 L188.4,357.5 L188.9,357.5 L189.4,357.5 L189.9,357.5 L190.4,357.5 L190.9,357.5 L191.4,357.5 L191.9,357.5 L192.4,357.5 L192.9,357.4 L193.4,357.4 L193.9,357.4 L194.4,357.4 L194.9,357.4 L195.4,357.4 L195.9,357.4 L196.4,357.4 L196.9,357.4 L197.5,357.4 L198.0,357.4 L198.5,357.4 L199.0,357.3 L199.5,357.3 L200.0,357.3 L200.5,357.3 L201.0,357.3 L201.5,357.3 L202.0,357.3 L202.5,357.3 L203.0,357.3 L203.5,357.3 L204.0,357.3 L204.5,357.2 L205.0,357.2 L205.5,357.2 L206.0,357.2 L206.5,357.2 L207.0,357.2 L207.5,357.2 L208.0,357.2 L208.5,357.2 L209.0,357.2 L209.5,357.2 L210.0,357.2 L210.5,357.1 L211.0,357.1 L211.5,357.1 L212.0,357.1 L212.5,357.1 L213.0,357.1 L213.5,357.1 L214.0,357.1 L214.5,357.1 L215.1,357.1 L215.6,357.1 L216.1,357.0 L216.6,357.0 L217.1,357.0 L217.6,357.0 L218.1,357.0 L218.6,357.0 L219.1,357.0 L219.6,357.0 L220.1,357.0 L220.6,357.0 L221.1,357.0 L221.6,357.0 L222.1,356.9 L222.6,356.9 L223.1,356.9 L223.6,356.9 L224.1,356.9 L224.6,356.9 L225.1,356.9 L225.6,356.9 L226.1,356.9 L226.6,356.9 L227.1,356.9 L227.6,356.8 L228.1,356.8 L228.6,356.8 L229.1,356.8 L229.6,356.8 L230.1,356.8 L230.6,356.8 L231.1,356.8 L231.6,356.8 L232.1,356.8 L232.7,356.8 L233.2,356.8 L233.7,356.7 L234.2,356.7 L234.7,356.7 L235.2,356.7 L235.7,356.7 L236.2,356.7 L236.7,356.7 L237.2,356.7 L237.7,356.7 L238.2,356.7 L238.7,356.7 L239.2,356.6 L239.7,356.6 L240.2,356.6 L240.7,356.6 L241.2,356.6" fill="none" stroke="#2030f0" stroke-width="1.3" stroke-linejoin="round" stroke-linecap="round"/>
<path d="M30.5,360.1 L31.0,360.1 L31.5,360.0 L32.0,360.0 L32.5,360.0 L33.0,360.0 L33.5,360.0 L34.0,359.9 L34.5,359.9 L35.0,359.9 L35.5,359.9 L36.0,359.8 L36.5,359.8 L37.0,359.8 L37.5,359.8 L38.0,359.7 L38.5,359.7 L39.0,359.7 L39.6,359.7 L40.1,359.6 L40.6,359.6 L41.1,359.6 L41.6,359.5 L42.1,359.5 L42.6,359.5 L43.1,359.5 L43.6,359.4 L44.1,359.4 L44.6,359.4 L45.1,359.3 L45.6,359.3 L46.1,359.3 L46.6,359.2 L47.1,359.2 L47.6,359.2 L48.1,359.1 L48.6,359.1 L49.1,359.1 L49.6,359.0 L50.1,359.0 L50.6,358.9 L51.1,358.9 L51.6,358.9 L52.1,358.8 L52.6,358.8 L53.1,358.7 L53.6,358.7 L54.1,358.7 L54.6,358.6 L55.1,358.6 L55.6,358.5 L56.1,358.5 L56.6,358.4 L57.2,358.4 L57.7,358.3 L58.2,358.3 L58.7,358.2 L59.2,358.2 L59.7,358.1 L60.2,358.0 L60.7,358.0 L61.2,357.9 L61.7,357.9 L62.2,357.8 L62.7,357.7 L63.2,357.7 L63.7,357.6 L64.2,357.5 L64.7,357.4 L65.2,357.4 L65.7,357.3 L66.2,357.2 L66.7,357.1 L67.2,357.0 L67.7,356.9 L68.2,356.8 L68.7,356.7 L69.2,356.6 L69.7,356.5 L70.2,356.4 L70.7,356.3 L71.2,356.2 L71.7,356.1 L72.2,356.0 L72.7,355.8 L73.2,355.7 L73.7,355.6 L74.2,355.4 L74.8,355.3 L75.3,355.1 L75.8,354.9 L76.3,354.8 L76.8,354.6 L77.3,354.4 L77.8,354.2 L78.3,354.0 L78.8,353.7 L79.3,353.5 L79.8,353.2 L80.3,352.9 L80.8,352.6 L81.3,352.3 L81.8,351.9 L82.3,351.5 L82.8,351.1 L83.3,350.6 L83.8,350.2 L84.3,349.6 L84.8,349.0 L85.3,348.4 L85.8,347.7 L86.3,346.9 L86.8,346.1 L87.3,345.2 L87.8,344.2 L88.3,343.1 L88.8,342.0 L89.3,340.7 L89.8,339.4 L90.3,337.9 L90.8,336.3 L91.3,334.6 L91.8,332.7 L92.4,330.7 L92.9,328.6 L93.4,326.3 L93.9,323.9 L94.4,321.4 L94.9,318.7 L95.4,315.8 L95.9,312.9 L96.4,309.8 L96.9,306.5 L97.4,303.2 L97.9,299.8 L98.4,296.2 L98.9,292.6 L99.4,289.0 L99.9,285.3 L100.4,281.7 L100.9,278.1 L101.4,274.6 L101.9,271.2 L102.4,268.0 L102.9,265.0 L103.4,262.3 L103.9,259.9 L104.4,257.9 L104.9,256.3 L105.4,255.1 L105.9,254.5 L106.4,254.3 L106.9,254.7 L107.4,255.5 L107.9,256.8 L108.4,258.6 L108.9,260.7 L109.4,263.2 L110.0,266.0 L110.5,269.0 L111.0,272.2 L111.5,275.6 L112.0,279.1 L112.5,282.6 L113.0,286.2 L113.5,289.7 L114.0,293.2 L114.5,296.7 L115.0,300.0 L115.5,303.3 L116.0,306.4 L116.5,309.4 L117.0,312.3 L117.5,315.1 L118.0,317.6 L118.5,320.1 L119.0,322.4 L119.5,324.5 L120.0,326.5 L120.5,328.4 L121.0,330.1 L121.5,331.7 L122.0,333.1 L122.5,334.4 L123.0,335.6 L123.5,336.7 L124.0,337.8 L124.5,338.7 L125.0,339.5 L125.5,340.2 L126.0,340.9 L126.5,341.5 L127.0,342.1 L127.6,342.6 L128.1,343.1 L128.6,343.6 L129.1,344.0 L129.6,344.4 L130.1,344.8 L130.6,345.1 L131.1,345.5 L131.6,345.9 L132.1,346.2 L132.6,346.5 L133.1,346.9 L133.6,347.2 L134.1,347.6 L134.6,347.9 L135.1,348.2 L135.6,348.6 L136.1,348.9 L136.6,349.2 L137.1,349.5 L137.6,349.9 L138.1,350.2 L138.6,350.5 L139.1,350.8 L139.6,351.1 L140.1,351.4 L140.6,351.6 L141.1,351.9 L141.6,352.2 L142.1,352.4 L142.6,352.6 L143.1,352.9 L143.6,353.1 L144.1,353.3 L144.7,353.5 L145.2,353.7 L145.7,353.9 L146.2,354.0 L146.7,354.2 L147.2,354.3 L147.7,354.5 L148.2,354.6 L148.7,354.7 L149.2,354.8 L149.7,354.9 L150.2,355.0 L150.7,355.1 L151.2,355.2 L151.7,355.3 L152.2,355.4 L152.7,355.4 L153.2,355.5 L153.7,355.6 L154.2,355.6 L154.7,355.7 L155.2,355.7 L155.7,355.8 L156.2,355.8 L156.7,355.9 L157.2,355.9 L157.7,355.9 L158.2,356.0 L158.7,356.0 L159.2,356.0 L159.7,356.1 L160.2,356.1 L160.7,356.1 L161.2,356.2 L161.7,356.2 L162.3,356.2 L162.8,356.2 L163.3,356.3 L163.8,356.3 L164.3,356.3 L164.8,356.3 L165.3,356.3 L165.8,356.4 L166.3,356.4 L166.8,356.4 L167.3,356.4 L167.8,356.4 L168.3,356.4 L168.8,356.5 L169.3,356.5 L169.8,356.5 L170.3,356.5 L170.8,356.5 L171.3,356.5 L171.8,356.5 L172.3,356.5 L172.8,356.6 L173.3,356.6 L173.8,356.6 L174.3,356.6 L174.8,356.6 L175.3,356.6 L175.8,356.6 L176.3,356.6 L176.8,356.6 L177.3,356.6 L177.8,356.6 L178.3,356.6 L178.8,356.7 L179.3,356.7 L179.9,356.7 L180.4,356.7 L180.9,356.7 L181.4,356.7 L181.9,356.7 L182.4,356.7 L182.9,356.7 L183.4,356.7 L183.9,356.7 L184.4,356.7 L184.9,356.7 L185.4,356.7 L185.9,356.7 L186.4,356.7 L186.9,356.7 L187.4,356.7 L187.9,356.7 L188.4,356.7 L188.9,356.7 L189.4,356.7 L189.9,356.7 L190.4,356.7 L190.9,356.7 L191.4,356.7 L191.9,356.7 L192.4,356.7 L192.9,356.7 L193.4,356.7 L193.9,356.7 L194.4,356.7 L194.9,356.7 L195.4,356.7 L195.9,356.7 L196.4,356.7 L196.9,356.7 L197.5,356.7 L198.0,356.7 L198.5,356.7 L199.0,356.7 L199.5,356.7 L200.0,356.7 L200.5,356.7 L201.0,356.7 L201.5,356.7 L202.0,356.7 L202.5,356.7 L203.0,356.7 L203.5,356.7 L204.0,356.7 L204.5,356.7 L205.0,356.7 L205.5,356.7 L206.0,356.7 L206.5,356.7 L207.0,356.7 L207.5,356.7 L208.0,356.7 L208.5,356.7 L209.0,356.7 L209.5,356.7 L210.0,356.7 L210.5,356.7 L211.0,356.7 L211.5,356.6 L212.0,356.6 L212.5,356.6 L213.0,356.6 L213.5,356.6 L214.0,356.6 L214.5,356.6 L215.1,356.6 L215.6,356.6 L216.1,356.6 L216.6,356.6 L217.1,356.6 L217.6,356.6 L218.1,356.6 L218.6,356.6 L219.1,356.6 L219.6,356.6 L220.1,356.6 L220.6,356.6 L221.1,356.6 L221.6,356.6 L222.1,356.5 L222.6,356.5 L223.1,356.5 L223.6,356.5 L224.1,356.5 L224.6,356.5 L225.1,356.5 L225.6,356.5 L226.1,356.5 L226.6,356.5 L227.1,356.5 L227.6,356.5 L228.1,356.5 L228.6,356.5 L229.1,356.5 L229.6,356.5 L230.1,356.5 L230.6,356.5 L231.1,356.4 L231.6,356.4 L232.1,356.4 L232.7,356.4 L233.2,356.4 L233.7,356.4 L234.2,356.4 L234.7,356.4 L235.2,356.4 L235.7,356.4 L236.2,356.4 L236.7,356.4 L237.2,356.4 L237.7,356.4 L238.2,356.4 L238.7,356.4 L239.2,356.3 L239.7,356.3 L240.2,356.3 L240.7,356.3 L241.2,356.3" fill="none" stroke="#ff1010" stroke-width="1.3" stroke-linejoin="round" stroke-linecap="round"/>
<path d="M30.5,360.1 L31.0,360.1 L31.5,360.1 L32.0,360.0 L32.5,360.0 L33.0,360.0 L33.5,360.0 L34.0,359.9 L34.5,359.9 L35.0,359.9 L35.5,359.9 L36.0,359.8 L36.5,359.8 L37.0,359.8 L37.5,359.8 L38.0,359.7 L38.5,359.7 L39.0,359.7 L39.6,359.7 L40.1,359.6 L40.6,359.6 L41.1,359.6 L41.6,359.6 L42.1,359.5 L42.6,359.5 L43.1,359.5 L43.6,359.4 L44.1,359.4 L44.6,359.4 L45.1,359.3 L45.6,359.3 L46.1,359.3 L46.6,359.2 L47.1,359.2 L47.6,359.2 L48.1,359.1 L48.6,359.1 L49.1,359.1 L49.6,359.0 L50.1,359.0 L50.6,359.0 L51.1,358.9 L51.6,358.9 L52.1,358.8 L52.6,358.8 L53.1,358.8 L53.6,358.7 L54.1,358.7 L54.6,358.6 L55.1,358.6 L55.6,358.5 L56.1,358.5 L56.6,358.4 L57.2,358.4 L57.7,358.3 L58.2,358.3 L58.7,358.2 L59.2,358.2 L59.7,358.1 L60.2,358.1 L60.7,358.0 L61.2,357.9 L61.7,357.9 L62.2,357.8 L62.7,357.7 L63.2,357.7 L63.7,357.6 L64.2,357.5 L64.7,357.5 L65.2,357.4 L65.7,357.3 L66.2,357.2 L66.7,357.1 L67.2,357.1 L67.7,357.0 L68.2,356.9 L68.7,356.8 L69.2,356.7 L69.7,356.6 L70.2,356.5 L70.7,356.4 L71.2,356.2 L71.7,356.1 L72.2,356.0 L72.7,355.9 L73.2,355.7 L73.7,355.6 L74.2,355.5 L74.8,355.3 L75.3,355.1 L75.8,355.0 L76.3,354.8 L76.8,354.6 L77.3,354.4 L77.8,354.2 L78.3,354.0 L78.8,353.8 L79.3,353.5 L79.8,353.3 L80.3,353.0 L80.8,352.7 L81.3,352.3 L81.8,352.0 L82.3,351.6 L82.8,351.1 L83.3,350.7 L83.8,350.2 L84.3,349.7 L84.8,349.1 L85.3,348.4 L85.8,347.7 L86.3,347.0 L86.8,346.2 L87.3,345.3 L87.8,344.3 L88.3,343.2 L88.8,342.0 L89.3,340.8 L89.8,339.4 L90.3,337.9 L90.8,336.3 L91.3,334.6 L91.8,332.8 L92.4,330.8 L92.9,328.7 L93.4,326.4 L93.9,324.0 L94.4,321.4 L94.9,318.7 L95.4,315.9 L95.9,312.9 L96.4,309.8 L96.9,306.6 L97.4,303.3 L97.9,299.8 L98.4,296.3 L98.9,292.7 L99.4,289.1 L99.9,285.4 L100.4,281.8 L100.9,278.2 L101.4,274.7 L101.9,271.3 L102.4,268.1 L102.9,265.1 L103.4,262.4 L103.9,260.0 L104.4,258.0 L104.9,256.4 L105.4,255.3 L105.9,254.7 L106.4,254.5 L106.9,254.9 L107.4,255.8 L107.9,257.1 L108.4,258.9 L108.9,261.0 L109.4,263.6 L110.0,266.4 L110.5,269.5 L111.0,272.7 L111.5,276.2 L112.0,279.7 L112.5,283.3 L113.0,286.9 L113.5,290.5 L114.0,294.1 L114.5,297.7 L115.0,301.1 L115.5,304.5 L116.0,307.7 L116.5,310.9 L117.0,313.9 L117.5,316.7 L118.0,319.5 L118.5,322.0 L119.0,324.5 L119.5,326.8 L120.0,329.0 L120.5,331.0 L121.0,332.9 L121.5,334.6 L122.0,336.2 L122.5,337.7 L123.0,339.1 L123.5,340.4 L124.0,341.6 L124.5,342.7 L125.0,343.7 L125.5,344.6 L126.0,345.4 L126.5,346.2 L127.0,346.9 L127.6,347.5 L128.1,348.1 L128.6,348.6 L129.1,349.1 L129.6,349.6 L130.1,350.0 L130.6,350.3 L131.1,350.7 L131.6,351.0 L132.1,351.3 L132.6,351.6 L133.1,351.8 L133.6,352.1 L134.1,352.3 L134.6,352.5 L135.1,352.7 L135.6,352.9 L136.1,353.0 L136.6,353.2 L137.1,353.3 L137.6,353.5 L138.1,353.6 L138.6,353.7 L139.1,353.9 L139.6,354.0 L140.1,354.1 L140.6,354.2 L141.1,354.3 L141.6,354.4 L142.1,354.5 L142.6,354.6 L143.1,354.7 L143.6,354.7 L144.1,354.8 L144.7,354.9 L145.2,355.0 L145.7,355.0 L146.2,355.1 L146.7,355.1 L147.2,355.2 L147.7,355.3 L148.2,355.3 L148.7,355.4 L149.2,355.4 L149.7,355.5 L150.2,355.5 L150.7,355.6 L151.2,355.6 L151.7,355.7 L152.2,355.7 L152.7,355.7 L153.2,355.8 L153.7,355.8 L154.2,355.9 L154.7,355.9 L155.2,355.9 L155.7,356.0 L156.2,356.0 L156.7,356.0 L157.2,356.1 L157.7,356.1 L158.2,356.1 L158.7,356.1 L159.2,356.2 L159.7,356.2 L160.2,356.2 L160.7,356.2 L161.2,356.3 L161.7,356.3 L162.3,356.3 L162.8,356.3 L163.3,356.3 L163.8,356.4 L164.3,356.4 L164.8,356.4 L165.3,356.4 L165.8,356.4 L166.3,356.4 L166.8,356.5 L167.3,356.5 L167.8,356.5 L168.3,356.5 L168.8,356.5 L169.3,356.5 L169.8,356.5 L170.3,356.6 L170.8,356.6 L171.3,356.6 L171.8,356.6 L172.3,356.6 L172.8,356.6 L173.3,356.6 L173.8,356.6 L174.3,356.6 L174.8,356.6 L175.3,356.7 L175.8,356.7 L176.3,356.7 L176.8,356.7 L177.3,356.7 L177.8,356.7 L178.3,356.7 L178.8,356.7 L179.3,356.7 L179.9,356.7 L180.4,356.7 L180.9,356.7 L181.4,356.7 L181.9,356.7 L182.4,356.7 L182.9,356.7 L183.4,356.7 L183.9,356.7 L184.4,356.7 L184.9,356.7 L185.4,356.8 L185.9,356.8 L186.4,356.8 L186.9,356.8 L187.4,356.8 L187.9,356.8 L188.4,356.8 L188.9,356.8 L189.4,356.8 L189.9,356.8 L190.4,356.8 L190.9,356.8 L191.4,356.8 L191.9,356.8 L192.4,356.8 L192.9,356.8 L193.4,356.8 L193.9,356.8 L194.4,356.8 L194.9,356.8 L195.4,356.8 L195.9,356.8 L196.4,356.8 L196.9,356.8 L197.5,356.8 L198.0,356.8 L198.5,356.7 L199.0,356.7 L199.5,356.7 L200.0,356.7 L200.5,356.7 L201.0,356.7 L201.5,356.7 L202.0,356.7 L202.5,356.7 L203.0,356.7 L203.5,356.7 L204.0,356.7 L204.5,356.7 L205.0,356.7 L205.5,356.7 L206.0,356.7 L206.5,356.7 L207.0,356.7 L207.5,356.7 L208.0,356.7 L208.5,356.7 L209.0,356.7 L209.5,356.7 L210.0,356.7 L210.5,356.7 L211.0,356.7 L211.5,356.7 L212.0,356.7 L212.5,356.7 L213.0,356.6 L213.5,356.6 L214.0,356.6 L214.5,356.6 L215.1,356.6 L215.6,356.6 L216.1,356.6 L216.6,356.6 L217.1,356.6 L217.6,356.6 L218.1,356.6 L218.6,356.6 L219.1,356.6 L219.6,356.6 L220.1,356.6 L220.6,356.6 L221.1,356.6 L221.6,356.6 L222.1,356.6 L222.6,356.6 L223.1,356.5 L223.6,356.5 L224.1,356.5 L224.6,356.5 L225.1,356.5 L225.6,356.5 L226.1,356.5 L226.6,356.5 L227.1,356.5 L227.6,356.5 L228.1,356.5 L228.6,356.5 L229.1,356.5 L229.6,356.5 L230.1,356.5 L230.6,356.5 L231.1,356.5 L231.6,356.5 L232.1,356.4 L232.7,356.4 L233.2,356.4 L233.7,356.4 L234.2,356.4 L234.7,356.4 L235.2,356.4 L235.7,356.4 L236.2,356.4 L236.7,356.4 L237.2,356.4 L237.7,356.4 L238.2,356.4 L238.7,356.4 L239.2,356.4 L239.7,356.3 L240.2,356.3 L240.7,356.3 L241.2,356.3" fill="none" stroke="#ff1aff" stroke-width="1.6" stroke-linejoin="round" stroke-linecap="round"/>
<path d="M30.5,361.0 L31.0,361.0 L31.5,361.0 L32.0,360.9 L32.5,360.9 L33.0,360.9 L33.5,360.9 L34.0,360.9 L34.5,360.9 L35.0,360.9 L35.5,360.9 L36.0,360.9 L36.5,360.9 L37.0,360.8 L37.5,360.8 L38.0,360.8 L38.5,360.8 L39.0,360.8 L39.6,360.8 L40.1,360.8 L40.6,360.8 L41.1,360.8 L41.6,360.8 L42.1,360.7 L42.6,360.7 L43.1,360.7 L43.6,360.7 L44.1,360.7 L44.6,360.7 L45.1,360.7 L45.6,360.7 L46.1,360.7 L46.6,360.7 L47.1,360.6 L47.6,360.6 L48.1,360.6 L48.6,360.6 L49.1,360.6 L49.6,360.6 L50.1,360.6 L50.6,360.6 L51.1,360.6 L51.6,360.6 L52.1,360.5 L52.6,360.5 L53.1,360.5 L53.6,360.5 L54.1,360.5 L54.6,360.5 L55.1,360.5 L55.6,360.5 L56.1,360.5 L56.6,360.4 L57.2,360.4 L57.7,360.4 L58.2,360.4 L58.7,360.4 L59.2,360.4 L59.7,360.4 L60.2,360.4 L60.7,360.4 L61.2,360.4 L61.7,360.3 L62.2,360.3 L62.7,360.3 L63.2,360.3 L63.7,360.3 L64.2,360.3 L64.7,360.3 L65.2,360.3 L65.7,360.3 L66.2,360.3 L66.7,360.2 L67.2,360.2 L67.7,360.2 L68.2,360.2 L68.7,360.2 L69.2,360.2 L69.7,360.2 L70.2,360.2 L70.7,360.2 L71.2,360.1 L71.7,360.1 L72.2,360.1 L72.7,360.1 L73.2,360.1 L73.7,360.1 L74.2,360.1 L74.8,360.1 L75.3,360.1 L75.8,360.1 L76.3,360.0 L76.8,360.0 L77.3,360.0 L77.8,360.0 L78.3,360.0 L78.8,360.0 L79.3,360.0 L79.8,360.0 L80.3,359.9 L80.8,359.9 L81.3,359.9 L81.8,359.9 L82.3,359.9 L82.8,359.9 L83.3,359.8 L83.8,359.8 L84.3,359.8 L84.8,359.8 L85.3,359.8 L85.8,359.7 L86.3,359.7 L86.8,359.7 L87.3,359.7 L87.8,359.7 L88.3,359.6 L88.8,359.6 L89.3,359.6 L89.8,359.6 L90.3,359.6 L90.8,359.5 L91.3,359.5 L91.8,359.5 L92.4,359.5 L92.9,359.5 L93.4,359.4 L93.9,359.4 L94.4,359.4 L94.9,359.4 L95.4,359.4 L95.9,359.3 L96.4,359.3 L96.9,359.3 L97.4,359.3 L97.9,359.3 L98.4,359.2 L98.9,359.2 L99.4,359.2 L99.9,359.2 L100.4,359.1 L100.9,359.1 L101.4,359.1 L101.9,359.1 L102.4,359.0 L102.9,359.0 L103.4,359.0 L103.9,359.0 L104.4,358.9 L104.9,358.9 L105.4,358.9 L105.9,358.8 L106.4,358.8 L106.9,358.8 L107.4,358.7 L107.9,358.7 L108.4,358.6 L108.9,358.6 L109.4,358.5 L110.0,358.5 L110.5,358.4 L111.0,358.4 L111.5,358.3 L112.0,358.2 L112.5,358.2 L113.0,358.1 L113.5,358.0 L114.0,357.9 L114.5,357.8 L115.0,357.7 L115.5,357.6 L116.0,357.5 L116.5,357.4 L117.0,357.2 L117.5,357.1 L118.0,356.9 L118.5,356.8 L119.0,356.6 L119.5,356.4 L120.0,356.3 L120.5,356.1 L121.0,355.9 L121.5,355.7 L122.0,355.5 L122.5,355.3 L123.0,355.1 L123.5,355.0 L124.0,354.8 L124.5,354.6 L125.0,354.4 L125.5,354.2 L126.0,354.1 L126.5,353.9 L127.0,353.8 L127.6,353.7 L128.1,353.6 L128.6,353.5 L129.1,353.4 L129.6,353.3 L130.1,353.3 L130.6,353.3 L131.1,353.3 L131.6,353.3 L132.1,353.4 L132.6,353.4 L133.1,353.5 L133.6,353.6 L134.1,353.7 L134.6,353.8 L135.1,353.9 L135.6,354.1 L136.1,354.2 L136.6,354.4 L137.1,354.6 L137.6,354.7 L138.1,354.9 L138.6,355.1 L139.1,355.2 L139.6,355.4 L140.1,355.6 L140.6,355.7 L141.1,355.9 L141.6,356.0 L142.1,356.2 L142.6,356.3 L143.1,356.5 L143.6,356.6 L144.1,356.7 L144.7,356.8 L145.2,356.9 L145.7,357.0 L146.2,357.1 L146.7,357.2 L147.2,357.3 L147.7,357.3 L148.2,357.4 L148.7,357.5 L149.2,357.5 L149.7,357.6 L150.2,357.6 L150.7,357.6 L151.2,357.7 L151.7,357.7 L152.2,357.7 L152.7,357.7 L153.2,357.8 L153.7,357.8 L154.2,357.8 L154.7,357.8 L155.2,357.8 L155.7,357.8 L156.2,357.8 L156.7,357.8 L157.2,357.8 L157.7,357.8 L158.2,357.8 L158.7,357.8 L159.2,357.8 L159.7,357.8 L160.2,357.8 L160.7,357.8 L161.2,357.8 L161.7,357.8 L162.3,357.8 L162.8,357.8 L163.3,357.8 L163.8,357.8 L164.3,357.8 L164.8,357.8 L165.3,357.8 L165.8,357.8 L166.3,357.8 L166.8,357.8 L167.3,357.8 L167.8,357.8 L168.3,357.8 L168.8,357.8 L169.3,357.7 L169.8,357.7 L170.3,357.7 L170.8,357.7 L171.3,357.7 L171.8,357.7 L172.3,357.7 L172.8,357.7 L173.3,357.7 L173.8,357.7 L174.3,357.7 L174.8,357.7 L175.3,357.7 L175.8,357.7 L176.3,357.7 L176.8,357.7 L177.3,357.6 L177.8,357.6 L178.3,357.6 L178.8,357.6 L179.3,357.6 L179.9,357.6 L180.4,357.6 L180.9,357.6 L181.4,357.6 L181.9,357.6 L182.4,357.6 L182.9,357.6 L183.4,357.6 L183.9,357.6 L184.4,357.5 L184.9,357.5 L185.4,357.5 L185.9,357.5 L186.4,357.5 L186.9,357.5 L187.4,357.5 L187.9,357.5 L188.4,357.5 L188.9,357.5 L189.4,357.5 L189.9,357.5 L190.4,357.5 L190.9,357.5 L191.4,357.4 L191.9,357.4 L192.4,357.4 L192.9,357.4 L193.4,357.4 L193.9,357.4 L194.4,357.4 L194.9,357.4 L195.4,357.4 L195.9,357.4 L196.4,357.4 L196.9,357.4 L197.5,357.3 L198.0,357.3 L198.5,357.3 L199.0,357.3 L199.5,357.3 L200.0,357.3 L200.5,357.3 L201.0,357.3 L201.5,357.3 L202.0,357.3 L202.5,357.3 L203.0,357.3 L203.5,357.2 L204.0,357.2 L204.5,357.2 L205.0,357.2 L205.5,357.2 L206.0,357.2 L206.5,357.2 L207.0,357.2 L207.5,357.2 L208.0,357.2 L208.5,357.2 L209.0,357.2 L209.5,357.1 L210.0,357.1 L210.5,357.1 L211.0,357.1 L211.5,357.1 L212.0,357.1 L212.5,357.1 L213.0,357.1 L213.5,357.1 L214.0,357.1 L214.5,357.1 L215.1,357.1 L215.6,357.0 L216.1,357.0 L216.6,357.0 L217.1,357.0 L217.6,357.0 L218.1,357.0 L218.6,357.0 L219.1,357.0 L219.6,357.0 L220.1,357.0 L220.6,357.0 L221.1,356.9 L221.6,356.9 L222.1,356.9 L222.6,356.9 L223.1,356.9 L223.6,356.9 L224.1,356.9 L224.6,356.9 L225.1,356.9 L225.6,356.9 L226.1,356.9 L226.6,356.9 L227.1,356.8 L227.6,356.8 L228.1,356.8 L228.6,356.8 L229.1,356.8 L229.6,356.8 L230.1,356.8 L230.6,356.8 L231.1,356.8 L231.6,356.8 L232.1,356.8 L232.7,356.8 L233.2,356.7 L233.7,356.7 L234.2,356.7 L234.7,356.7 L235.2,356.7 L235.7,356.7 L236.2,356.7 L236.7,356.7 L237.2,356.7 L237.7,356.7 L238.2,356.7 L238.7,356.6 L239.2,356.6 L239.7,356.6 L240.2,356.6 L240.7,356.6 L241.2,356.6" fill="none" stroke="#1e8c1e" stroke-width="1.3" stroke-linejoin="round" stroke-linecap="round"/>
<path d="M30.5,360.9 L31.0,360.8 L31.5,360.9 L32.0,360.8 L32.5,360.8 L33.0,360.6 L33.5,360.8 L34.0,361.0 L34.5,361.0 L35.0,360.9 L35.5,360.9 L36.0,360.7 L36.5,360.9 L37.0,360.7 L37.5,360.7 L38.0,360.7 L38.5,360.7 L39.0,360.6 L39.6,360.7 L40.1,360.5 L40.6,360.6 L41.1,360.9 L41.6,360.6 L42.1,360.6 L42.6,360.7 L43.1,360.7 L43.6,360.4 L44.1,360.5 L44.6,360.7 L45.1,360.6 L45.6,360.5 L46.1,360.7 L46.6,360.4 L47.1,360.5 L47.6,360.4 L48.1,360.6 L48.6,360.2 L49.1,360.4 L49.6,360.4 L50.1,360.5 L50.6,360.5 L51.1,360.5 L51.6,360.2 L52.1,360.4 L52.6,360.3 L53.1,360.2 L53.6,360.4 L54.1,360.2 L54.6,360.0 L55.1,360.2 L55.6,360.1 L56.1,360.2 L56.6,360.3 L57.2,360.2 L57.7,360.4 L58.2,360.2 L58.7,360.0 L59.2,360.1 L59.7,360.0 L60.2,360.0 L60.7,360.2 L61.2,360.0 L61.7,359.8 L62.2,360.1 L62.7,360.0 L63.2,360.1 L63.7,360.0 L64.2,360.1 L64.7,360.0 L65.2,360.1 L65.7,360.0 L66.2,359.9 L66.7,359.9 L67.2,359.7 L67.7,359.8 L68.2,359.8 L68.7,359.8 L69.2,359.6 L69.7,359.9 L70.2,359.7 L70.7,359.5 L71.2,359.4 L71.7,359.6 L72.2,359.5 L72.7,359.4 L73.2,359.5 L73.7,359.3 L74.2,359.4 L74.8,359.2 L75.3,359.2 L75.8,359.2 L76.3,359.3 L76.8,358.7 L77.3,358.6 L77.8,358.4 L78.3,358.4 L78.8,358.0 L79.3,357.8 L79.8,357.6 L80.3,357.1 L80.8,356.7 L81.3,356.4 L81.8,355.7 L82.3,355.2 L82.8,354.7 L83.3,354.0 L83.8,353.2 L84.3,352.1 L84.8,351.3 L85.3,350.3 L85.8,349.1 L86.3,347.7 L86.8,346.1 L87.3,344.7 L87.8,342.7 L88.3,340.8 L88.8,338.7 L89.3,336.8 L89.8,334.2 L90.3,331.8 L90.8,328.9 L91.3,326.1 L91.8,322.9 L92.4,319.7 L92.9,316.7 L93.4,313.0 L93.9,309.3 L94.4,305.6 L94.9,301.9 L95.4,298.1 L95.9,294.0 L96.4,289.9 L96.9,286.1 L97.4,282.2 L97.9,278.3 L98.4,274.7 L98.9,270.9 L99.4,267.4 L99.9,263.8" fill="none" stroke="#151515" stroke-width="1.4" stroke-linejoin="round" stroke-linecap="round"/>
<path d="M100.4,260.9 L100.9,258.1 L101.4,255.2 L101.9,252.8 L102.4,250.7 L102.9,249.2 L103.4,247.4 L103.9,246.5 L104.4,245.9 L104.9,245.7 L105.4,245.6 L105.9,246.2 L106.4,246.9 L106.9,248.0 L107.4,249.4 L107.9,251.0 L108.4,253.1 L108.9,255.5 L109.4,257.7 L110.0,260.5 L110.5,263.4 L111.0,266.3 L111.5,269.6 L112.0,272.7 L112.5,276.3 L113.0,279.9 L113.5,283.3 L114.0,286.5 L114.5,290.1 L115.0,293.5 L115.5,296.9 L116.0,300.5 L116.5,303.4 L117.0,307.0 L117.5,310.0 L118.0,313.2 L118.5,316.0 L119.0,318.7 L119.5,321.5 L120.0,324.2 L120.5,326.6 L121.0,329.0 L121.5,331.0 L122.0,332.9 L122.5,335.1 L123.0,336.3 L123.5,337.4 L124.0,338.4 L124.5,339.4 L125.0,340.0 L125.5,340.8 L126.0,341.5 L126.5,342.3 L127.0,342.6 L127.6,343.4 L128.1,343.6 L128.6,344.0 L129.1,344.7 L129.6,345.0 L130.1,345.2 L130.6,345.7 L131.1,346.2 L131.6,346.6 L132.1,346.7 L132.6,347.2 L133.1,347.6 L133.6,347.7 L134.1,348.2 L134.6,348.5 L135.1,348.8 L135.6,349.1 L136.1,349.5 L136.6,349.8 L137.1,350.1 L137.6,350.4 L138.1,350.9 L138.6,351.1 L139.1,351.5 L139.6,351.8 L140.1,352.0 L140.6,352.5 L141.1,352.4 L141.6,352.9 L142.1,353.0 L142.6,353.5 L143.1,353.7 L143.6,353.5 L144.1,353.8 L144.7,354.2 L145.2,354.4 L145.7,354.5 L146.2,354.6 L146.7,354.8 L147.2,355.0 L147.7,355.1 L148.2,355.3 L148.7,355.0 L149.2,355.5 L149.7,355.4 L150.2,355.7 L150.7,355.7 L151.2,355.7 L151.7,355.9 L152.2,355.9 L152.7,355.9 L153.2,355.9 L153.7,356.2 L154.2,356.3 L154.7,356.4 L155.2,356.3 L155.7,356.5 L156.2,356.4 L156.7,356.4 L157.2,356.6 L157.7,356.7 L158.2,356.5 L158.7,356.6 L159.2,356.6 L159.7,356.7 L160.2,356.6 L160.7,356.9 L161.2,356.7 L161.7,356.8 L162.3,356.7 L162.8,356.9 L163.3,356.9 L163.8,356.8 L164.3,357.1 L164.8,357.0 L165.3,357.1 L165.8,357.1 L166.3,356.9 L166.8,356.9 L167.3,357.1 L167.8,357.0 L168.3,357.0 L168.8,357.0 L169.3,356.9 L169.8,357.1 L170.3,356.8 L170.8,357.2 L171.3,357.0 L171.8,357.0 L172.3,357.1 L172.8,357.2 L173.3,357.0 L173.8,356.9 L174.3,357.0 L174.8,356.9 L175.3,357.0 L175.8,357.3 L176.3,357.0 L176.8,357.2 L177.3,357.0 L177.8,357.2 L178.3,357.1 L178.8,357.1 L179.3,357.2 L179.9,357.4 L180.4,357.2 L180.9,357.2 L181.4,357.0 L181.9,357.2 L182.4,357.1 L182.9,357.2 L183.4,357.1 L183.9,357.3 L184.4,356.9 L184.9,357.1 L185.4,357.2 L185.9,357.1 L186.4,357.0 L186.9,357.1 L187.4,357.0 L187.9,357.1 L188.4,357.4 L188.9,357.3 L189.4,357.0 L189.9,357.0 L190.4,357.1 L190.9,357.2 L191.4,357.0 L191.9,357.0 L192.4,357.2 L192.9,357.2 L193.4,357.0 L193.9,356.9 L194.4,356.9 L194.9,357.0 L195.4,356.8 L195.9,357.1 L196.4,357.0 L196.9,357.1 L197.5,357.3 L198.0,357.2 L198.5,356.9 L199.0,357.1 L199.5,357.2 L200.0,356.9 L200.5,356.9 L201.0,357.0 L201.5,356.8 L202.0,357.2 L202.5,356.7 L203.0,356.8 L203.5,356.9 L204.0,356.9 L204.5,357.0 L205.0,357.0 L205.5,356.9 L206.0,357.1 L206.5,356.7 L207.0,356.9 L207.5,356.8 L208.0,356.9 L208.5,356.9 L209.0,356.8 L209.5,356.8 L210.0,357.0 L210.5,356.9 L211.0,356.8 L211.5,357.1 L212.0,357.1 L212.5,356.7 L213.0,356.9 L213.5,357.2 L214.0,356.9 L214.5,356.9 L215.1,356.8 L215.6,356.8 L216.1,356.8 L216.6,356.7 L217.1,356.9 L217.6,356.8 L218.1,356.7 L218.6,356.6 L219.1,356.8 L219.6,356.7 L220.1,356.7 L220.6,356.9 L221.1,356.8 L221.6,356.8 L222.1,356.8 L222.6,356.7 L223.1,356.7 L223.6,356.7 L224.1,356.8 L224.6,356.6 L225.1,356.9 L225.6,356.7 L226.1,356.6 L226.6,356.6 L227.1,356.6 L227.6,356.7 L228.1,356.6 L228.6,356.8 L229.1,356.5 L229.6,356.4 L230.1,356.5 L230.6,356.4 L231.1,356.6 L231.6,356.7 L232.1,356.7 L232.7,356.4 L233.2,356.5 L233.7,356.8 L234.2,356.6 L234.7,356.6 L235.2,356.7 L235.7,356.8 L236.2,356.7 L236.7,356.5 L237.2,356.6 L237.7,356.6 L238.2,356.4 L238.7,356.4 L239.2,356.5 L239.7,356.4 L240.2,356.5 L240.7,356.5 L241.2,356.7" fill="none" stroke="#151515" stroke-width="1.4" stroke-linejoin="round" stroke-linecap="round"/>
<rect x="30" y="222.2" width="211.7" height="155.0" fill="none" stroke="#0d0d0d" stroke-width="1.5"/>
<text x="30.00" y="392.7" text-anchor="middle" style="font-family:'Liberation Serif','Times New Roman',serif;font-weight:bold;font-size:12.5px">525</text>
<text x="111.42" y="392.7" text-anchor="middle" style="font-family:'Liberation Serif','Times New Roman',serif;font-weight:bold;font-size:12.5px">530</text>
<text x="192.85" y="392.7" text-anchor="middle" style="font-family:'Liberation Serif','Times New Roman',serif;font-weight:bold;font-size:12.5px">535</text>
<path d="M30.00,377.2 v3 M70.71,377.2 v1.8 M111.42,377.2 v3 M152.13,377.2 v1.8 M192.85,377.2 v3 M233.56,377.2 v1.8" stroke="#1a1a1a" stroke-width="1.3" fill="none"/>
<text x="142.7" y="406" text-anchor="middle" style="font-family:'Liberation Serif','Times New Roman',serif;font-weight:bold;font-size:14px">Binding Energy (eV)</text>
<text transform="translate(17.8,295.8) rotate(-90)" text-anchor="middle" style="font-family:'Liberation Serif','Times New Roman',serif;font-weight:bold;font-size:14px">Intensity (a.u.)</text>
<text x="10.0" y="227.0" text-anchor="start" style="font-family:'Liberation Serif','Times New Roman',serif;font-weight:bold;font-size:23px">c</text>
<text x="232.8" y="239.6" text-anchor="end" style="font-family:'Liberation Serif','Times New Roman',serif;font-weight:bold;font-size:12.5px">O 1s</text>
<text x="135" y="260.8" text-anchor="start" style="font-family:'Liberation Serif','Times New Roman',serif;font-weight:bold;font-size:9px">Ti–O</text>
<text x="154.8" y="340.4" text-anchor="start" style="font-family:'Liberation Serif','Times New Roman',serif;font-weight:bold;font-size:9px">Bi–O</text>
<path d="M106.50,263.30 L125.95,258.67" stroke="#111" stroke-width="1.1" fill="none"/>
<path d="M131.30,257.40 L126.46,260.81 L125.44,256.53 Z" fill="#111"/>
<path d="M133.30,354.20 L148.69,342.01" stroke="#111" stroke-width="1.1" fill="none"/>
<path d="M153.00,338.60 L150.05,343.74 L147.32,340.29 Z" fill="#111"/>
<path d="M320.5,357.7 L321.0,357.8 L321.5,357.8 L322.0,357.8 L322.5,357.9 L323.0,357.7 L323.5,357.6 L324.0,357.5 L324.5,357.6 L325.0,357.7 L325.5,357.7 L326.0,357.6 L326.5,357.6 L327.1,357.6 L327.6,357.7 L328.1,357.5 L328.6,357.6 L329.1,357.4 L329.6,357.4 L330.1,357.7 L330.6,357.3 L331.1,357.5 L331.6,357.5 L332.1,357.4 L332.6,357.4 L333.1,357.4 L333.6,357.4 L334.1,357.4 L334.6,357.2 L335.1,357.4 L335.6,357.3 L336.1,357.3 L336.6,357.4 L337.1,357.4 L337.6,357.4 L338.1,357.3 L338.6,357.4 L339.2,357.4 L339.7,357.4 L340.2,357.4 L340.7,357.2 L341.2,357.2 L341.7,357.3 L342.2,357.1 L342.7,357.2 L343.2,357.1 L343.7,357.1 L344.2,357.0 L344.7,357.0 L345.2,357.1 L345.7,357.2 L346.2,357.2 L346.7,357.0 L347.2,357.0 L347.7,356.9 L348.2,357.0 L348.7,357.0 L349.2,357.0 L349.7,357.1 L350.2,356.9 L350.7,356.8 L351.2,356.8 L351.8,356.8 L352.3,356.8 L352.8,357.0 L353.3,356.9 L353.8,356.7 L354.3,356.9 L354.8,356.9 L355.3,356.7 L355.8,356.7 L356.3,356.7 L356.8,356.8 L357.3,356.8 L357.8,356.8 L358.3,356.8 L358.8,356.8 L359.3,356.8 L359.8,356.7 L360.3,356.5 L360.8,356.6 L361.3,356.6 L361.8,356.5 L362.3,356.6 L362.8,356.5 L363.3,356.4 L363.8,356.6 L364.4,356.5 L364.9,356.5 L365.4,356.5 L365.9,356.5 L366.4,356.4 L366.9,356.1 L367.4,356.3 L367.9,356.3 L368.4,356.2 L368.9,356.3 L369.4,356.4 L369.9,356.2 L370.4,356.1 L370.9,356.4 L371.4,356.2 L371.9,356.1 L372.4,356.2 L372.9,356.2 L373.4,356.0 L373.9,356.2 L374.4,356.0 L374.9,355.9 L375.4,356.0 L375.9,356.1 L376.5,355.9 L377.0,356.0 L377.5,355.9 L378.0,356.2 L378.5,355.8 L379.0,356.0 L379.5,355.8 L380.0,355.8 L380.5,355.8 L381.0,355.7 L381.5,355.7 L382.0,355.6 L382.5,355.4 L383.0,355.4 L383.5,355.4 L384.0,355.3 L384.5,355.4 L385.0,355.2 L385.5,355.2 L386.0,355.2 L386.5,354.9 L387.0,354.7 L387.5,354.6 L388.0,354.5 L388.5,354.7 L389.1,354.4 L389.6,354.5 L390.1,354.3 L390.6,354.3 L391.1,354.1 L391.6,353.8 L392.1,353.5 L392.6,353.3 L393.1,352.9 L393.6,352.4 L394.1,351.9 L394.6,351.5 L395.1,350.3 L395.6,349.6 L396.1,348.3 L396.6,347.0 L397.1,345.3 L397.6,343.1 L398.1,340.8 L398.6,337.7 L399.1,334.6 L399.6,330.6 L400.1,326.4 L400.6,321.4 L401.1,315.7 L401.7,310.0 L402.2,303.7 L402.7,297.1 L403.2,290.0 L403.7,282.8 L404.2,275.4 L404.7,268.6 L405.2,261.8 L405.7,255.2 L406.2,249.4 L406.7,244.2 L407.2,240.3 L407.7,237.5 L408.2,235.5 L408.7,234.9 L409.2,235.6 L409.7,237.3 L410.2,240.6 L410.7,244.5 L411.2,249.6 L411.7,255.3 L412.2,261.7 L412.7,268.3 L413.2,275.2 L413.8,282.1 L414.3,288.8 L414.8,295.6 L415.3,301.8 L415.8,307.6 L416.3,313.1 L416.8,318.1 L417.3,322.3 L417.8,326.3 L418.3,329.7 L418.8,332.9 L419.3,335.4 L419.8,337.7 L420.3,339.2 L420.8,340.7 L421.3,342.0 L421.8,342.9 L422.3,343.6 L422.8,344.4 L423.3,344.7 L423.8,344.9 L424.3,345.2 L424.8,345.5 L425.3,345.7 L425.8,345.7 L426.4,345.8 L426.9,346.1 L427.4,346.1 L427.9,346.1 L428.4,346.3 L428.9,346.3 L429.4,346.1 L429.9,346.3 L430.4,346.3 L430.9,346.3 L431.4,346.1 L431.9,346.3 L432.4,346.4 L432.9,346.5 L433.4,346.1 L433.9,346.6 L434.4,346.3 L434.9,346.5 L435.4,346.5 L435.9,346.4 L436.4,346.4 L436.9,346.2 L437.4,346.4 L437.9,346.2 L438.4,346.0 L439.0,346.5 L439.5,346.3 L440.0,346.4 L440.5,346.1 L441.0,346.3 L441.5,346.2 L442.0,346.2 L442.5,346.0 L443.0,345.8 L443.5,345.8 L444.0,345.5 L444.5,345.5 L445.0,345.6 L445.5,345.3 L446.0,345.3 L446.5,345.1 L447.0,345.2 L447.5,344.9 L448.0,344.6 L448.5,344.5 L449.0,344.1 L449.5,343.8 L450.0,343.6 L450.5,343.1 L451.1,342.8 L451.6,342.3 L452.1,342.1 L452.6,341.8 L453.1,341.0 L453.6,340.6 L454.1,339.9 L454.6,339.3 L455.1,338.6 L455.6,338.2 L456.1,337.5 L456.6,336.6 L457.1,335.7 L457.6,335.0 L458.1,334.0 L458.6,333.2 L459.1,332.2 L459.6,331.3 L460.1,330.3 L460.6,329.2 L461.1,328.2 L461.6,327.1 L462.1,326.2 L462.6,325.1 L463.1,324.3 L463.7,323.2 L464.2,322.4 L464.7,321.6 L465.2,320.5 L465.7,319.8 L466.2,319.0 L466.7,318.5 L467.2,318.0 L467.7,317.3 L468.2,316.8 L468.7,316.6 L469.2,316.0 L469.7,316.1 L470.2,315.8 L470.7,315.6 L471.2,316.3 L471.7,316.4 L472.2,316.5 L472.7,317.0 L473.2,317.4 L473.7,318.0 L474.2,318.5 L474.7,319.3 L475.2,320.2 L475.7,321.0 L476.3,321.9 L476.8,322.7 L477.3,323.9 L477.8,324.5 L478.3,325.6 L478.8,326.4 L479.3,327.4 L479.8,328.7 L480.3,329.4 L480.8,330.5 L481.3,331.4 L481.8,332.2 L482.3,333.2 L482.8,334.0 L483.3,334.9 L483.8,335.8 L484.3,336.5 L484.8,337.1 L485.3,337.8 L485.8,338.6 L486.3,339.1 L486.8,339.8 L487.3,340.5 L487.8,340.8 L488.4,341.2 L488.9,341.6 L489.4,341.9 L489.9,342.3 L490.4,342.6 L490.9,343.0 L491.4,343.2 L491.9,343.6 L492.4,343.7 L492.9,343.9 L493.4,344.0 L493.9,344.4 L494.4,344.5 L494.9,344.7 L495.4,344.7 L495.9,344.9 L496.4,344.8 L496.9,345.0 L497.4,345.2 L497.9,344.9 L498.4,345.2 L498.9,345.3 L499.4,345.2 L499.9,345.3 L500.4,345.3 L501.0,345.1 L501.5,345.2 L502.0,345.1 L502.5,345.1 L503.0,345.1 L503.5,345.1 L504.0,345.1 L504.5,345.1 L505.0,344.9 L505.5,345.2 L506.0,345.1 L506.5,345.1 L507.0,344.9 L507.5,344.9 L508.0,345.0 L508.5,344.9 L509.0,344.7 L509.5,344.9 L510.0,345.1 L510.5,344.6 L511.0,344.8 L511.5,344.7 L512.0,344.7 L512.5,344.7 L513.0,344.4 L513.6,344.5 L514.1,344.5 L514.6,344.3 L515.1,344.2 L515.6,344.2 L516.1,344.0 L516.6,344.2 L517.1,343.8 L517.6,343.9 L518.1,343.6 L518.6,343.8 L519.1,343.6 L519.6,343.3 L520.1,343.5 L520.6,343.3 L521.1,343.3 L521.6,343.4 L522.1,343.0 L522.6,342.9 L523.1,343.1 L523.6,342.9 L524.1,342.9 L524.6,342.7 L525.1,342.5 L525.7,342.4 L526.2,342.5 L526.7,342.3 L527.2,342.1 L527.7,342.0 L528.2,341.9 L528.7,341.8 L529.2,341.9 L529.7,341.6 L530.2,341.4 L530.7,341.4 L531.2,341.4 L531.7,341.3" fill="none" stroke="#4d68f4" stroke-width="1.25" stroke-linejoin="round" stroke-linecap="round"/>
<rect x="320" y="221.7" width="212.20000000000005" height="154.8" fill="none" stroke="#0d0d0d" stroke-width="1.5"/>
<text x="320.00" y="392.1" text-anchor="middle" style="font-family:'Liberation Serif','Times New Roman',serif;font-weight:bold;font-size:12.5px">450</text>
<text x="373.05" y="392.1" text-anchor="middle" style="font-family:'Liberation Serif','Times New Roman',serif;font-weight:bold;font-size:12.5px">455</text>
<text x="426.10" y="392.1" text-anchor="middle" style="font-family:'Liberation Serif','Times New Roman',serif;font-weight:bold;font-size:12.5px">460</text>
<text x="479.15" y="392.1" text-anchor="middle" style="font-family:'Liberation Serif','Times New Roman',serif;font-weight:bold;font-size:12.5px">465</text>
<text x="532.20" y="392.1" text-anchor="middle" style="font-family:'Liberation Serif','Times New Roman',serif;font-weight:bold;font-size:12.5px">470</text>
<path d="M320.00,376.5 v3 M346.52,376.5 v1.8 M373.05,376.5 v3 M399.58,376.5 v1.8 M426.10,376.5 v3 M452.62,376.5 v1.8 M479.15,376.5 v3 M505.68,376.5 v1.8 M532.20,376.5 v3" stroke="#1a1a1a" stroke-width="1.3" fill="none"/>
<text x="426.4" y="407.8" text-anchor="middle" style="font-family:'Liberation Serif','Times New Roman',serif;font-weight:bold;font-size:14px">Binding Energy (eV)</text>
<text transform="translate(304.6,299.3) rotate(-90)" text-anchor="middle" style="font-family:'Liberation Serif','Times New Roman',serif;font-weight:bold;font-size:14px">Intensity (a.u.)</text>
<text x="289.6" y="230.5" text-anchor="start" style="font-family:'Liberation Serif','Times New Roman',serif;font-weight:bold;font-size:22px">d</text>
<text x="527.3" y="235.1" text-anchor="end" style="font-family:'Liberation Serif','Times New Roman',serif;font-weight:bold;font-size:12.5px">Ti 2p</text>
<text x="417" y="243.3" style="font-family:'Liberation Serif','Times New Roman',serif;font-weight:bold;font-size:9px">2p<tspan font-size="6" dy="2.4">3/2</tspan></text>
<text x="470.8" y="309.5" style="font-family:'Liberation Serif','Times New Roman',serif;font-weight:bold;font-size:9px">2p<tspan font-size="6" dy="2.4">1/2</tspan></text>
</svg>
</body></html>
